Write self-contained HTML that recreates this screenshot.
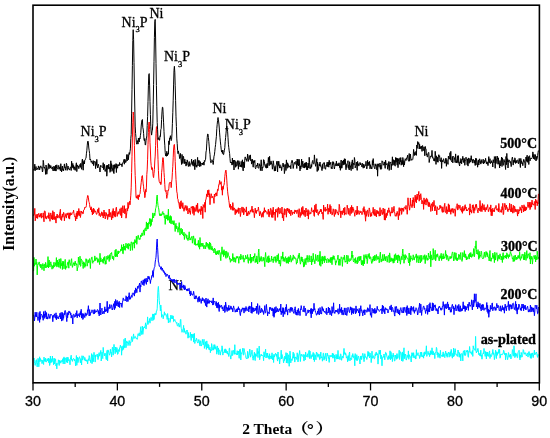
<!DOCTYPE html>
<html><head><meta charset="utf-8"><title>XRD</title>
<style>html,body{margin:0;padding:0;background:#fff;}svg{display:block;}</style>
</head><body>
<svg width="550" height="438" viewBox="0 0 550 438">
<rect width="550" height="438" fill="#fff"/>
<text x="168.6" y="289.9" font-family="Liberation Serif, Times New Roman, serif" font-size="14.5" stroke="#000" stroke-width="0.25">Ni</text>
<polyline fill="none" stroke="#00ffff" stroke-width="1.0" stroke-linejoin="round" points="33.6,359.6 34.0,358.0 34.4,361.3 34.8,363.3 35.2,365.4 35.6,362.3 36.0,360.3 36.4,359.7 36.8,364.2 37.2,366.9 37.6,362.8 38.0,358.3 38.4,359.1 38.8,366.8 39.2,362.6 39.6,356.8 40.0,361.7 40.4,358.5 40.8,360.1 41.2,360.5 41.6,359.9 42.0,363.6 42.4,361.8 42.8,360.2 43.2,363.2 43.6,364.5 44.0,357.1 44.4,361.2 44.8,359.1 45.2,361.5 45.6,358.2 46.0,362.1 46.4,361.9 46.8,361.1 47.2,358.9 47.6,360.8 48.0,358.7 48.4,358.0 48.8,362.7 49.2,358.7 49.6,365.5 50.0,364.1 50.4,356.0 50.8,362.8 51.2,358.7 51.6,362.1 52.0,362.1 52.4,356.0 52.8,361.2 53.2,361.2 53.6,364.8 54.0,358.3 54.4,364.0 54.8,358.5 55.2,360.8 55.6,359.2 56.0,366.0 56.4,363.4 56.8,368.9 57.2,363.6 57.6,364.1 58.0,364.1 58.4,359.8 58.8,361.3 59.2,365.5 59.6,360.3 60.0,362.0 60.4,361.4 60.8,363.2 61.2,360.3 61.6,360.9 62.0,362.0 62.4,361.6 62.8,358.7 63.2,363.9 63.6,357.3 64.0,357.6 64.4,357.3 64.8,364.0 65.2,360.0 65.6,358.2 66.0,357.7 66.4,362.3 66.8,357.8 67.2,357.2 67.6,362.8 68.0,357.3 68.4,359.9 68.8,360.8 69.2,359.5 69.6,360.6 70.0,364.8 70.4,359.2 70.8,357.0 71.2,355.2 71.6,360.1 72.0,359.6 72.4,361.4 72.8,359.2 73.2,359.1 73.6,358.4 74.0,359.0 74.4,360.9 74.8,359.3 75.2,360.6 75.6,365.9 76.0,361.6 76.4,355.5 76.8,365.3 77.2,361.1 77.6,357.2 78.0,362.6 78.4,359.9 78.8,358.0 79.2,357.9 79.6,356.7 80.0,359.8 80.4,362.8 80.8,358.6 81.2,360.7 81.6,365.0 82.0,355.7 82.4,360.1 82.8,358.3 83.2,356.0 83.6,356.1 84.0,359.0 84.4,360.3 84.8,357.4 85.2,359.1 85.6,361.0 86.0,359.7 86.4,361.3 86.8,360.0 87.2,360.1 87.6,364.0 88.0,360.3 88.4,358.8 88.8,360.5 89.2,355.6 89.6,357.3 90.0,360.6 90.4,360.0 90.8,362.7 91.2,358.1 91.6,353.6 92.0,363.7 92.4,361.1 92.8,354.7 93.2,361.8 93.6,357.8 94.0,352.3 94.4,356.3 94.8,356.0 95.2,362.1 95.6,354.9 96.0,356.4 96.4,356.2 96.8,355.7 97.2,354.0 97.6,357.2 98.0,359.6 98.4,358.1 98.8,353.4 99.2,352.6 99.6,356.2 100.0,353.6 100.4,353.7 100.8,350.4 101.2,361.0 101.6,357.8 102.0,352.1 102.4,357.5 102.8,358.6 103.2,347.4 103.6,352.7 104.0,353.1 104.4,356.0 104.8,353.6 105.2,353.1 105.6,353.5 106.0,359.0 106.4,359.7 106.8,351.6 107.2,350.3 107.6,360.9 108.0,349.9 108.4,350.9 108.8,352.6 109.2,353.8 109.6,355.2 110.0,353.2 110.4,349.3 110.8,353.2 111.2,352.3 111.6,357.0 112.0,351.3 112.4,347.2 112.8,347.9 113.2,355.2 113.6,349.1 114.0,344.4 114.4,348.7 114.8,350.3 115.2,353.7 115.6,347.0 116.0,351.8 116.4,352.1 116.8,347.5 117.2,348.8 117.6,354.4 118.0,354.0 118.4,351.3 118.8,349.5 119.2,351.6 119.6,347.7 120.0,347.6 120.4,345.1 120.8,347.4 121.2,347.0 121.6,355.2 122.0,346.2 122.4,350.3 122.8,350.2 123.2,345.6 123.6,349.3 124.0,339.3 124.4,345.7 124.8,347.8 125.2,338.0 125.6,341.4 126.0,347.7 126.4,343.6 126.8,340.9 127.2,342.8 127.6,342.1 128.0,345.6 128.4,344.5 128.8,342.0 129.2,340.5 129.6,341.9 130.0,345.6 130.4,342.4 130.8,342.9 131.2,340.3 131.6,336.6 132.0,337.9 132.4,341.6 132.8,339.6 133.2,336.3 133.6,333.9 134.0,338.6 134.4,337.0 134.8,336.6 135.2,336.3 135.6,337.7 136.0,337.4 136.4,339.0 136.8,338.6 137.2,339.4 137.6,337.5 138.0,333.8 138.4,334.3 138.8,335.6 139.2,332.8 139.6,334.8 140.0,336.1 140.4,329.9 140.8,326.7 141.2,334.7 141.6,330.9 142.0,332.4 142.4,326.0 142.8,334.4 143.2,331.0 143.6,328.0 144.0,326.9 144.4,327.8 144.8,326.5 145.2,325.7 145.6,322.8 146.0,329.1 146.4,324.9 146.8,324.7 147.2,324.3 147.6,316.9 148.0,324.5 148.4,321.6 148.8,321.2 149.2,321.8 149.6,318.5 150.0,323.2 150.4,318.5 150.8,317.6 151.2,317.3 151.6,319.7 152.0,320.8 152.4,316.8 152.8,313.9 153.2,320.3 153.6,314.2 154.0,319.5 154.4,315.8 154.8,313.6 155.2,313.1 155.6,314.9 156.0,314.8 156.4,310.9 156.8,310.9 157.2,308.7 157.6,298.7 158.0,289.2 158.4,286.4 158.8,292.5 159.2,300.4 159.6,304.4 160.0,305.3 160.4,310.8 160.8,305.0 161.2,308.6 161.6,317.3 162.0,315.5 162.4,314.7 162.8,315.0 163.2,318.8 163.6,315.9 164.0,315.0 164.4,311.8 164.8,315.2 165.2,313.6 165.6,314.0 166.0,314.2 166.4,316.3 166.8,315.8 167.2,319.4 167.6,313.5 168.0,317.0 168.4,322.9 168.8,318.0 169.2,321.6 169.6,321.6 170.0,322.4 170.4,321.0 170.8,315.2 171.2,318.6 171.6,318.5 172.0,315.4 172.4,318.8 172.8,316.8 173.2,315.9 173.6,321.7 174.0,321.3 174.4,319.8 174.8,319.4 175.2,320.9 175.6,321.6 176.0,321.9 176.4,323.3 176.8,322.5 177.2,325.3 177.6,326.0 178.0,325.9 178.4,323.2 178.8,323.7 179.2,327.1 179.6,325.6 180.0,326.4 180.4,319.6 180.8,319.3 181.2,328.5 181.6,328.8 182.0,332.3 182.4,330.7 182.8,329.5 183.2,329.3 183.6,325.4 184.0,332.5 184.4,328.5 184.8,332.1 185.2,331.5 185.6,332.1 186.0,334.2 186.4,330.5 186.8,331.1 187.2,330.1 187.6,331.8 188.0,338.2 188.4,332.6 188.8,337.4 189.2,336.7 189.6,336.8 190.0,337.3 190.4,332.3 190.8,336.6 191.2,340.5 191.6,334.0 192.0,336.2 192.4,334.6 192.8,337.8 193.2,333.9 193.6,342.1 194.0,336.5 194.4,333.4 194.8,343.5 195.2,341.3 195.6,340.2 196.0,340.6 196.4,338.2 196.8,338.9 197.2,341.9 197.6,342.8 198.0,343.1 198.4,341.2 198.8,339.5 199.2,340.6 199.6,344.7 200.0,345.9 200.4,340.9 200.8,340.8 201.2,346.1 201.6,344.9 202.0,345.1 202.4,339.4 202.8,342.4 203.2,342.3 203.6,344.7 204.0,339.3 204.4,348.4 204.8,345.7 205.2,346.3 205.6,341.7 206.0,345.2 206.4,349.4 206.8,340.9 207.2,346.6 207.6,347.9 208.0,343.9 208.4,348.5 208.8,345.2 209.2,350.0 209.6,348.0 210.0,347.3 210.4,352.7 210.8,349.3 211.2,350.9 211.6,343.6 212.0,345.3 212.4,349.8 212.8,350.2 213.2,347.5 213.6,350.1 214.0,344.7 214.4,348.6 214.8,344.7 215.2,349.3 215.6,346.9 216.0,346.6 216.4,348.8 216.8,354.2 217.2,345.9 217.6,347.2 218.0,352.3 218.4,348.0 218.8,354.7 219.2,350.2 219.6,349.9 220.0,350.9 220.4,355.1 220.8,352.0 221.2,351.7 221.6,351.1 222.0,345.8 222.4,347.9 222.8,355.1 223.2,353.3 223.6,352.5 224.0,353.0 224.4,349.6 224.8,352.3 225.2,348.8 225.6,352.8 226.0,349.6 226.4,351.2 226.8,353.3 227.2,351.1 227.6,354.2 228.0,353.7 228.4,353.6 228.8,356.5 229.2,348.4 229.6,348.1 230.0,354.8 230.4,355.8 230.8,359.1 231.2,355.4 231.6,355.6 232.0,350.6 232.4,355.5 232.8,355.3 233.2,350.2 233.6,350.7 234.0,353.1 234.4,354.3 234.8,344.7 235.2,353.7 235.6,354.2 236.0,353.1 236.4,354.4 236.8,355.0 237.2,350.7 237.6,355.0 238.0,353.0 238.4,351.0 238.8,354.5 239.2,358.3 239.6,349.6 240.0,349.1 240.4,349.1 240.8,360.0 241.2,353.4 241.6,354.0 242.0,351.9 242.4,351.4 242.8,348.2 243.2,354.8 243.6,355.1 244.0,348.5 244.4,351.3 244.8,352.3 245.2,354.4 245.6,355.3 246.0,358.0 246.4,358.7 246.8,357.9 247.2,358.7 247.6,351.3 248.0,353.1 248.4,358.2 248.8,355.7 249.2,355.0 249.6,349.1 250.0,349.5 250.4,357.2 250.8,356.1 251.2,354.2 251.6,353.9 252.0,350.1 252.4,356.3 252.8,358.4 253.2,360.2 253.6,355.5 254.0,354.8 254.4,352.2 254.8,359.1 255.2,360.6 255.6,353.7 256.0,356.5 256.4,355.9 256.8,354.0 257.2,348.3 257.6,354.7 258.0,357.6 258.4,351.5 258.8,353.4 259.2,346.1 259.6,359.8 260.0,357.5 260.4,356.1 260.8,355.2 261.2,354.1 261.6,355.8 262.0,355.1 262.4,355.3 262.8,356.0 263.2,356.5 263.6,360.7 264.0,351.8 264.4,356.9 264.8,354.3 265.2,352.8 265.6,349.1 266.0,358.0 266.4,353.3 266.8,354.0 267.2,357.6 267.6,353.0 268.0,356.3 268.4,356.0 268.8,358.7 269.2,359.3 269.6,353.7 270.0,359.0 270.4,356.0 270.8,356.7 271.2,355.7 271.6,358.7 272.0,352.8 272.4,357.2 272.8,359.9 273.2,355.6 273.6,362.5 274.0,354.2 274.4,357.1 274.8,355.0 275.2,354.6 275.6,353.2 276.0,354.9 276.4,356.4 276.8,354.1 277.2,359.2 277.6,361.1 278.0,352.0 278.4,359.1 278.8,357.2 279.2,357.3 279.6,364.0 280.0,360.2 280.4,357.6 280.8,357.2 281.2,350.2 281.6,359.0 282.0,354.5 282.4,357.3 282.8,357.1 283.2,359.6 283.6,362.8 284.0,359.7 284.4,360.6 284.8,356.1 285.2,358.2 285.6,359.1 286.0,352.6 286.4,363.0 286.8,354.8 287.2,353.1 287.6,361.8 288.0,363.3 288.4,354.8 288.8,355.1 289.2,366.3 289.6,357.3 290.0,351.1 290.4,355.2 290.8,362.9 291.2,358.9 291.6,359.2 292.0,360.6 292.4,358.9 292.8,355.9 293.2,352.1 293.6,358.2 294.0,353.5 294.4,356.7 294.8,362.1 295.2,358.4 295.6,357.0 296.0,357.0 296.4,359.0 296.8,359.5 297.2,352.8 297.6,357.3 298.0,361.9 298.4,359.0 298.8,354.4 299.2,354.7 299.6,350.5 300.0,354.3 300.4,361.5 300.8,356.4 301.2,354.1 301.6,354.9 302.0,356.3 302.4,356.3 302.8,355.5 303.2,354.3 303.6,358.4 304.0,361.1 304.4,354.8 304.8,354.9 305.2,360.0 305.6,352.1 306.0,354.7 306.4,355.3 306.8,356.9 307.2,355.6 307.6,353.8 308.0,357.3 308.4,352.8 308.8,351.2 309.2,350.3 309.6,358.6 310.0,351.1 310.4,357.7 310.8,358.3 311.2,358.7 311.6,355.8 312.0,354.6 312.4,356.5 312.8,354.5 313.2,352.4 313.6,360.0 314.0,353.5 314.4,361.6 314.8,357.7 315.2,354.8 315.6,357.5 316.0,359.8 316.4,352.0 316.8,353.3 317.2,353.0 317.6,356.6 318.0,357.3 318.4,356.1 318.8,353.9 319.2,354.4 319.6,359.6 320.0,359.3 320.4,356.4 320.8,352.1 321.2,357.9 321.6,356.9 322.0,356.8 322.4,361.2 322.8,358.5 323.2,353.2 323.6,353.2 324.0,360.2 324.4,356.7 324.8,358.8 325.2,355.8 325.6,353.3 326.0,357.1 326.4,361.0 326.8,357.4 327.2,353.0 327.6,355.5 328.0,354.9 328.4,356.9 328.8,359.5 329.2,362.4 329.6,357.2 330.0,355.2 330.4,356.8 330.8,356.6 331.2,355.3 331.6,356.6 332.0,356.6 332.4,353.1 332.8,358.2 333.2,355.5 333.6,353.7 334.0,358.1 334.4,355.2 334.8,361.9 335.2,358.1 335.6,356.9 336.0,354.4 336.4,355.5 336.8,359.2 337.2,354.6 337.6,359.0 338.0,350.4 338.4,357.3 338.8,359.1 339.2,357.7 339.6,356.7 340.0,359.7 340.4,354.2 340.8,353.8 341.2,357.1 341.6,360.3 342.0,358.0 342.4,356.2 342.8,357.7 343.2,358.1 343.6,353.0 344.0,348.4 344.4,353.7 344.8,352.3 345.2,355.1 345.6,353.2 346.0,354.2 346.4,358.1 346.8,357.1 347.2,356.7 347.6,361.8 348.0,355.5 348.4,355.7 348.8,360.6 349.2,353.5 349.6,352.0 350.0,360.8 350.4,357.9 350.8,358.7 351.2,358.8 351.6,359.6 352.0,355.5 352.4,356.7 352.8,353.6 353.2,357.4 353.6,357.7 354.0,355.6 354.4,359.0 354.8,365.8 355.2,353.6 355.6,359.5 356.0,359.9 356.4,360.3 356.8,354.7 357.2,360.7 357.6,359.1 358.0,356.7 358.4,356.1 358.8,357.9 359.2,359.9 359.6,359.8 360.0,364.0 360.4,356.1 360.8,359.1 361.2,355.9 361.6,359.6 362.0,357.6 362.4,355.5 362.8,353.3 363.2,355.0 363.6,358.0 364.0,361.7 364.4,359.6 364.8,353.7 365.2,355.8 365.6,357.4 366.0,356.9 366.4,357.4 366.8,359.5 367.2,357.8 367.6,355.0 368.0,351.3 368.4,356.1 368.8,352.0 369.2,356.6 369.6,358.0 370.0,353.0 370.4,356.5 370.8,355.9 371.2,362.6 371.6,358.2 372.0,351.2 372.4,358.2 372.8,358.1 373.2,356.2 373.6,355.7 374.0,358.6 374.4,358.8 374.8,358.1 375.2,353.8 375.6,356.0 376.0,352.1 376.4,352.3 376.8,355.1 377.2,353.6 377.6,355.5 378.0,364.1 378.4,358.2 378.8,354.1 379.2,350.2 379.6,354.2 380.0,352.4 380.4,350.1 380.8,358.8 381.2,355.1 381.6,357.9 382.0,365.8 382.4,357.3 382.8,356.8 383.2,357.5 383.6,355.6 384.0,354.0 384.4,355.8 384.8,359.8 385.2,355.6 385.6,352.3 386.0,352.6 386.4,353.2 386.8,356.3 387.2,357.7 387.6,357.7 388.0,359.8 388.4,355.7 388.8,358.8 389.2,357.2 389.6,358.4 390.0,350.8 390.4,360.0 390.8,351.7 391.2,352.9 391.6,358.6 392.0,355.1 392.4,361.6 392.8,356.7 393.2,353.2 393.6,356.7 394.0,355.0 394.4,360.9 394.8,361.1 395.2,358.4 395.6,355.0 396.0,356.4 396.4,359.3 396.8,353.7 397.2,353.7 397.6,358.6 398.0,358.3 398.4,355.4 398.8,355.2 399.2,350.2 399.6,359.5 400.0,355.6 400.4,351.7 400.8,352.6 401.2,353.2 401.6,361.0 402.0,357.9 402.4,351.9 402.8,361.4 403.2,359.8 403.6,352.6 404.0,347.8 404.4,358.7 404.8,354.0 405.2,355.3 405.6,354.1 406.0,359.5 406.4,360.1 406.8,358.1 407.2,355.2 407.6,356.4 408.0,357.5 408.4,350.9 408.8,359.3 409.2,354.6 409.6,356.3 410.0,355.9 410.4,358.2 410.8,358.6 411.2,362.0 411.6,354.3 412.0,352.6 412.4,355.6 412.8,353.2 413.2,357.7 413.6,352.7 414.0,355.4 414.4,357.8 414.8,358.0 415.2,355.5 415.6,359.1 416.0,358.7 416.4,349.7 416.8,355.8 417.2,355.2 417.6,353.7 418.0,352.7 418.4,354.7 418.8,355.7 419.2,355.3 419.6,358.5 420.0,357.3 420.4,352.5 420.8,352.0 421.2,356.7 421.6,352.1 422.0,354.6 422.4,355.5 422.8,357.1 423.2,355.5 423.6,358.2 424.0,352.5 424.4,355.8 424.8,351.8 425.2,354.3 425.6,354.0 426.0,350.8 426.4,345.8 426.8,356.4 427.2,354.6 427.6,353.8 428.0,351.3 428.4,352.3 428.8,354.6 429.2,353.3 429.6,356.6 430.0,353.5 430.4,350.7 430.8,355.0 431.2,351.3 431.6,353.8 432.0,347.8 432.4,352.1 432.8,354.9 433.2,351.3 433.6,353.1 434.0,355.0 434.4,353.4 434.8,358.6 435.2,352.5 435.6,352.7 436.0,352.8 436.4,347.4 436.8,348.7 437.2,354.9 437.6,352.3 438.0,357.5 438.4,353.1 438.8,352.9 439.2,356.5 439.6,354.2 440.0,358.2 440.4,350.3 440.8,354.8 441.2,355.5 441.6,355.1 442.0,356.9 442.4,356.6 442.8,353.6 443.2,351.9 443.6,356.5 444.0,353.7 444.4,356.5 444.8,357.7 445.2,354.3 445.6,351.0 446.0,353.0 446.4,356.1 446.8,353.1 447.2,357.3 447.6,354.0 448.0,354.3 448.4,352.0 448.8,353.6 449.2,357.2 449.6,352.9 450.0,352.9 450.4,351.6 450.8,356.3 451.2,349.4 451.6,352.0 452.0,356.7 452.4,358.2 452.8,353.3 453.2,356.9 453.6,348.1 454.0,356.3 454.4,354.9 454.8,350.4 455.2,348.7 455.6,352.5 456.0,354.8 456.4,355.2 456.8,354.4 457.2,356.4 457.6,356.2 458.0,350.0 458.4,353.0 458.8,352.6 459.2,357.2 459.6,352.7 460.0,357.2 460.4,354.4 460.8,361.0 461.2,353.8 461.6,353.9 462.0,353.4 462.4,354.1 462.8,360.9 463.2,352.0 463.6,350.8 464.0,352.8 464.4,355.3 464.8,350.2 465.2,355.5 465.6,355.3 466.0,352.4 466.4,352.1 466.8,350.4 467.2,351.9 467.6,350.2 468.0,356.3 468.4,357.3 468.8,351.5 469.2,352.2 469.6,346.5 470.0,350.5 470.4,353.1 470.8,352.8 471.2,352.3 471.6,354.4 472.0,352.0 472.4,350.5 472.8,356.4 473.2,345.8 473.6,348.0 474.0,349.2 474.4,349.2 474.8,349.0 475.2,350.5 475.6,336.4 476.0,350.9 476.4,353.0 476.8,351.4 477.2,351.8 477.6,348.8 478.0,348.3 478.4,351.0 478.8,354.7 479.2,353.2 479.6,355.5 480.0,355.3 480.4,355.9 480.8,350.2 481.2,356.5 481.6,355.2 482.0,359.2 482.4,354.8 482.8,354.1 483.2,352.8 483.6,353.7 484.0,348.4 484.4,352.6 484.8,353.3 485.2,356.4 485.6,351.5 486.0,353.9 486.4,359.0 486.8,352.1 487.2,356.2 487.6,352.1 488.0,353.5 488.4,355.2 488.8,356.5 489.2,352.5 489.6,350.9 490.0,358.5 490.4,354.6 490.8,356.4 491.2,356.8 491.6,356.3 492.0,353.3 492.4,353.7 492.8,349.5 493.2,354.6 493.6,352.7 494.0,354.0 494.4,359.6 494.8,356.1 495.2,354.3 495.6,350.1 496.0,356.3 496.4,358.6 496.8,351.7 497.2,355.4 497.6,352.6 498.0,353.7 498.4,353.0 498.8,349.4 499.2,352.6 499.6,349.4 500.0,358.2 500.4,357.2 500.8,354.3 501.2,355.0 501.6,354.3 502.0,354.7 502.4,354.7 502.8,353.5 503.2,353.7 503.6,350.2 504.0,351.2 504.4,352.4 504.8,354.8 505.2,353.1 505.6,359.8 506.0,353.6 506.4,353.2 506.8,355.5 507.2,357.2 507.6,359.7 508.0,357.1 508.4,352.5 508.8,353.7 509.2,357.3 509.6,355.0 510.0,356.6 510.4,354.0 510.8,359.0 511.2,358.5 511.6,357.6 512.0,354.8 512.4,349.6 512.8,350.3 513.2,355.3 513.6,356.2 514.0,345.8 514.4,352.9 514.8,357.7 515.2,357.1 515.6,352.9 516.0,356.2 516.4,354.4 516.8,353.7 517.2,357.6 517.6,357.7 518.0,352.8 518.4,351.6 518.8,350.6 519.2,350.2 519.6,358.3 520.0,359.9 520.4,355.0 520.8,357.5 521.2,352.4 521.6,354.2 522.0,357.1 522.4,355.4 522.8,354.3 523.2,349.6 523.6,350.2 524.0,353.3 524.4,352.9 524.8,354.3 525.2,352.6 525.6,353.8 526.0,354.7 526.4,356.0 526.8,354.7 527.2,352.9 527.6,353.7 528.0,357.1 528.4,353.9 528.8,351.7 529.2,351.6 529.6,355.3 530.0,356.2 530.4,358.1 530.8,353.6 531.2,358.5 531.6,353.5 532.0,353.9 532.4,352.9 532.8,356.1 533.2,357.6 533.6,354.5 534.0,353.1 534.4,350.1 534.8,355.0 535.2,353.6 535.6,354.0 536.0,352.7 536.4,352.0 536.8,353.3 537.2,355.9 537.6,357.4 538.0,354.5 538.4,355.5"/>
<polyline fill="none" stroke="#0000ff" stroke-width="1.0" stroke-linejoin="round" points="33.6,314.8 34.0,316.0 34.4,320.9 34.8,318.2 35.2,312.2 35.6,316.5 36.0,314.8 36.4,316.9 36.8,312.2 37.2,317.1 37.6,317.1 38.0,320.6 38.4,317.3 38.8,317.8 39.2,312.5 39.6,322.4 40.0,311.4 40.4,319.3 40.8,315.6 41.2,314.1 41.6,314.7 42.0,314.7 42.4,317.4 42.8,316.1 43.2,320.3 43.6,311.6 44.0,316.4 44.4,314.1 44.8,318.4 45.2,310.8 45.6,315.5 46.0,316.9 46.4,312.5 46.8,319.0 47.2,316.8 47.6,319.0 48.0,318.9 48.4,313.8 48.8,314.3 49.2,315.8 49.6,318.3 50.0,318.6 50.4,314.5 50.8,314.7 51.2,314.2 51.6,314.8 52.0,315.7 52.4,316.0 52.8,321.7 53.2,315.0 53.6,315.6 54.0,317.5 54.4,313.8 54.8,315.3 55.2,316.3 55.6,318.3 56.0,312.8 56.4,319.8 56.8,315.2 57.2,316.5 57.6,318.3 58.0,317.8 58.4,318.8 58.8,316.4 59.2,315.9 59.6,316.7 60.0,313.2 60.4,319.0 60.8,313.7 61.2,312.4 61.6,321.1 62.0,315.3 62.4,312.5 62.8,320.4 63.2,314.7 63.6,318.3 64.0,313.3 64.4,314.8 64.8,311.0 65.2,310.4 65.6,312.8 66.0,315.1 66.4,317.3 66.8,321.6 67.2,312.5 67.6,317.8 68.0,313.5 68.4,314.7 68.8,311.1 69.2,311.1 69.6,312.9 70.0,311.8 70.4,314.9 70.8,313.0 71.2,318.1 71.6,315.2 72.0,315.2 72.4,317.7 72.8,324.0 73.2,314.5 73.6,314.3 74.0,314.2 74.4,317.3 74.8,316.5 75.2,315.4 75.6,316.5 76.0,312.9 76.4,315.7 76.8,310.6 77.2,317.8 77.6,314.5 78.0,314.7 78.4,315.7 78.8,314.1 79.2,313.4 79.6,317.1 80.0,314.3 80.4,311.5 80.8,315.0 81.2,309.3 81.6,318.1 82.0,313.2 82.4,313.7 82.8,319.5 83.2,319.1 83.6,313.7 84.0,315.0 84.4,316.1 84.8,317.6 85.2,312.8 85.6,313.5 86.0,316.2 86.4,313.7 86.8,314.9 87.2,314.4 87.6,309.8 88.0,310.5 88.4,305.7 88.8,311.9 89.2,316.0 89.6,309.6 90.0,315.6 90.4,314.9 90.8,312.1 91.2,312.2 91.6,312.4 92.0,309.8 92.4,311.3 92.8,311.8 93.2,313.5 93.6,313.9 94.0,309.8 94.4,313.8 94.8,309.6 95.2,311.1 95.6,312.5 96.0,311.4 96.4,311.0 96.8,312.0 97.2,309.8 97.6,309.5 98.0,310.6 98.4,313.6 98.8,310.7 99.2,315.9 99.6,311.4 100.0,303.0 100.4,309.6 100.8,315.0 101.2,310.6 101.6,309.4 102.0,308.2 102.4,313.9 102.8,313.0 103.2,312.0 103.6,311.3 104.0,313.9 104.4,312.2 104.8,306.8 105.2,311.9 105.6,310.2 106.0,309.2 106.4,311.3 106.8,309.2 107.2,301.3 107.6,312.9 108.0,311.3 108.4,308.1 108.8,307.3 109.2,308.6 109.6,304.5 110.0,308.5 110.4,306.9 110.8,306.4 111.2,304.7 111.6,305.2 112.0,309.6 112.4,310.0 112.8,307.7 113.2,306.1 113.6,303.7 114.0,307.7 114.4,309.8 114.8,301.3 115.2,308.3 115.6,299.5 116.0,304.0 116.4,305.7 116.8,301.0 117.2,300.4 117.6,304.7 118.0,306.3 118.4,302.5 118.8,307.0 119.2,301.3 119.6,307.6 120.0,303.1 120.4,303.2 120.8,303.9 121.2,303.0 121.6,306.7 122.0,307.4 122.4,302.8 122.8,300.8 123.2,297.9 123.6,298.8 124.0,300.5 124.4,300.0 124.8,299.9 125.2,299.8 125.6,300.8 126.0,295.8 126.4,296.4 126.8,301.7 127.2,300.8 127.6,297.0 128.0,301.5 128.4,296.2 128.8,297.0 129.2,292.7 129.6,299.4 130.0,297.0 130.4,299.2 130.8,297.7 131.2,295.6 131.6,295.3 132.0,297.4 132.4,293.4 132.8,292.9 133.2,292.9 133.6,294.3 134.0,294.0 134.4,296.1 134.8,290.4 135.2,293.3 135.6,287.9 136.0,290.6 136.4,289.0 136.8,292.7 137.2,289.4 137.6,286.3 138.0,288.5 138.4,287.5 138.8,285.5 139.2,285.1 139.6,283.1 140.0,292.1 140.4,285.1 140.8,286.9 141.2,281.1 141.6,281.0 142.0,283.1 142.4,282.7 142.8,284.8 143.2,279.9 143.6,283.5 144.0,285.6 144.4,279.2 144.8,283.4 145.2,278.5 145.6,281.5 146.0,281.3 146.4,284.4 146.8,278.2 147.2,280.0 147.6,281.9 148.0,276.2 148.4,278.8 148.8,276.5 149.2,276.6 149.6,279.7 150.0,279.4 150.4,283.5 150.8,280.3 151.2,279.7 151.6,276.1 152.0,275.4 152.4,276.0 152.8,270.6 153.2,277.4 153.6,271.4 154.0,268.8 154.4,267.4 154.8,266.7 155.2,262.0 155.6,259.6 156.0,257.2 156.4,250.8 156.8,241.8 157.2,239.0 157.6,247.8 158.0,254.8 158.4,262.3 158.8,262.3 159.2,266.2 159.6,265.8 160.0,267.0 160.4,267.4 160.8,269.3 161.2,266.7 161.6,268.1 162.0,270.4 162.4,268.1 162.8,269.8 163.2,271.5 163.6,270.4 164.0,272.7 164.4,271.7 164.8,274.4 165.2,274.0 165.6,272.9 166.0,276.6 166.4,274.7 166.8,274.8 167.2,274.1 167.6,275.1 168.0,276.0 168.4,276.7 168.8,278.4 169.2,275.1 169.6,276.9 170.0,279.5 170.4,278.3 170.8,278.9 171.2,281.0 171.6,279.4 172.0,279.9 172.4,279.5 172.8,282.5 173.2,281.7 173.6,279.4 174.0,281.6 174.4,279.3 174.8,283.0 175.2,282.7 175.6,281.7 176.0,281.7 176.4,279.8 176.8,284.1 177.2,283.0 177.6,283.0 178.0,284.9 178.4,283.1 178.8,283.5 179.2,283.6 179.6,282.9 180.0,289.0 180.4,285.3 180.8,285.4 181.2,287.6 181.6,281.7 182.0,286.8 182.4,287.1 182.8,285.9 183.2,288.4 183.6,284.9 184.0,288.3 184.4,290.0 184.8,285.5 185.2,286.9 185.6,289.2 186.0,289.7 186.4,289.0 186.8,290.9 187.2,291.0 187.6,288.8 188.0,291.0 188.4,289.5 188.8,288.5 189.2,288.3 189.6,294.0 190.0,292.5 190.4,296.0 190.8,290.9 191.2,293.0 191.6,294.4 192.0,293.9 192.4,295.3 192.8,295.0 193.2,294.0 193.6,291.3 194.0,294.0 194.4,299.0 194.8,297.7 195.2,299.1 195.6,295.8 196.0,296.8 196.4,295.8 196.8,298.6 197.2,298.2 197.6,299.3 198.0,302.2 198.4,297.2 198.8,300.5 199.2,296.3 199.6,301.6 200.0,298.5 200.4,299.4 200.8,300.0 201.2,303.4 201.6,299.9 202.0,299.0 202.4,297.7 202.8,301.0 203.2,298.6 203.6,299.5 204.0,300.8 204.4,302.5 204.8,299.4 205.2,302.8 205.6,305.6 206.0,298.0 206.4,305.0 206.8,307.1 207.2,300.5 207.6,303.6 208.0,298.8 208.4,303.2 208.8,301.7 209.2,303.4 209.6,300.4 210.0,300.8 210.4,301.9 210.8,301.3 211.2,301.7 211.6,302.9 212.0,300.7 212.4,303.3 212.8,305.1 213.2,297.9 213.6,304.6 214.0,302.3 214.4,301.5 214.8,301.0 215.2,302.4 215.6,302.8 216.0,305.7 216.4,301.6 216.8,307.8 217.2,303.0 217.6,307.0 218.0,308.2 218.4,302.3 218.8,308.4 219.2,311.5 219.6,304.7 220.0,307.5 220.4,305.8 220.8,306.5 221.2,305.9 221.6,305.2 222.0,308.6 222.4,309.1 222.8,306.9 223.2,311.0 223.6,310.0 224.0,309.1 224.4,305.5 224.8,312.5 225.2,311.1 225.6,302.1 226.0,305.0 226.4,306.7 226.8,310.6 227.2,311.5 227.6,307.6 228.0,309.1 228.4,310.4 228.8,305.3 229.2,310.3 229.6,308.1 230.0,309.5 230.4,308.9 230.8,305.9 231.2,306.4 231.6,309.2 232.0,309.4 232.4,308.4 232.8,311.9 233.2,308.2 233.6,305.9 234.0,308.2 234.4,308.7 234.8,308.8 235.2,312.2 235.6,310.5 236.0,312.0 236.4,310.8 236.8,308.8 237.2,312.0 237.6,308.6 238.0,309.9 238.4,306.7 238.8,309.6 239.2,308.5 239.6,310.3 240.0,314.1 240.4,315.6 240.8,312.0 241.2,309.3 241.6,311.6 242.0,310.0 242.4,307.8 242.8,309.3 243.2,308.8 243.6,307.9 244.0,313.1 244.4,308.1 244.8,308.2 245.2,311.4 245.6,307.7 246.0,306.5 246.4,307.3 246.8,310.8 247.2,310.6 247.6,310.4 248.0,308.4 248.4,307.2 248.8,312.0 249.2,305.9 249.6,309.1 250.0,306.2 250.4,308.6 250.8,309.3 251.2,313.0 251.6,302.2 252.0,313.4 252.4,307.5 252.8,310.6 253.2,311.9 253.6,307.8 254.0,309.6 254.4,311.2 254.8,309.6 255.2,308.0 255.6,310.4 256.0,310.2 256.4,306.0 256.8,313.5 257.2,310.6 257.6,303.6 258.0,307.8 258.4,314.5 258.8,314.2 259.2,310.8 259.6,305.7 260.0,309.5 260.4,312.9 260.8,311.2 261.2,309.3 261.6,308.2 262.0,312.3 262.4,309.6 262.8,311.0 263.2,311.5 263.6,314.5 264.0,310.7 264.4,310.9 264.8,305.6 265.2,313.2 265.6,312.6 266.0,310.3 266.4,304.4 266.8,308.9 267.2,310.5 267.6,315.9 268.0,311.9 268.4,312.5 268.8,312.6 269.2,313.9 269.6,307.4 270.0,308.2 270.4,307.3 270.8,309.7 271.2,309.5 271.6,310.7 272.0,307.8 272.4,310.7 272.8,308.3 273.2,316.1 273.6,309.1 274.0,317.3 274.4,314.9 274.8,307.4 275.2,313.1 275.6,312.2 276.0,306.6 276.4,312.2 276.8,310.4 277.2,311.6 277.6,308.4 278.0,310.5 278.4,311.8 278.8,310.2 279.2,309.1 279.6,310.3 280.0,308.2 280.4,311.7 280.8,304.0 281.2,314.7 281.6,311.0 282.0,312.0 282.4,313.1 282.8,307.6 283.2,316.8 283.6,307.9 284.0,312.1 284.4,311.7 284.8,314.3 285.2,310.9 285.6,307.2 286.0,311.8 286.4,304.4 286.8,310.4 287.2,309.8 287.6,315.1 288.0,310.2 288.4,309.8 288.8,309.0 289.2,308.8 289.6,309.6 290.0,312.6 290.4,307.6 290.8,310.5 291.2,307.2 291.6,310.6 292.0,311.5 292.4,307.8 292.8,309.5 293.2,311.3 293.6,313.1 294.0,313.5 294.4,310.7 294.8,308.4 295.2,306.8 295.6,313.1 296.0,314.7 296.4,312.0 296.8,315.2 297.2,309.9 297.6,310.0 298.0,315.2 298.4,308.4 298.8,312.7 299.2,312.1 299.6,311.5 300.0,315.6 300.4,308.8 300.8,310.0 301.2,305.6 301.6,308.3 302.0,309.7 302.4,310.1 302.8,310.6 303.2,311.9 303.6,309.3 304.0,305.9 304.4,311.5 304.8,312.2 305.2,308.1 305.6,309.0 306.0,315.8 306.4,313.8 306.8,314.0 307.2,312.9 307.6,311.5 308.0,309.8 308.4,312.7 308.8,310.6 309.2,310.0 309.6,311.1 310.0,310.9 310.4,313.5 310.8,308.6 311.2,317.8 311.6,308.5 312.0,310.0 312.4,313.7 312.8,309.0 313.2,309.9 313.6,311.3 314.0,303.3 314.4,309.8 314.8,308.6 315.2,310.5 315.6,312.5 316.0,312.9 316.4,315.2 316.8,315.0 317.2,314.0 317.6,311.1 318.0,314.0 318.4,308.6 318.8,311.0 319.2,315.0 319.6,313.3 320.0,307.5 320.4,309.7 320.8,313.7 321.2,312.9 321.6,314.1 322.0,306.6 322.4,307.9 322.8,310.6 323.2,308.7 323.6,311.2 324.0,311.3 324.4,312.2 324.8,311.0 325.2,312.8 325.6,313.4 326.0,311.7 326.4,308.1 326.8,314.8 327.2,311.9 327.6,312.5 328.0,311.8 328.4,307.1 328.8,312.9 329.2,309.6 329.6,308.1 330.0,314.8 330.4,310.6 330.8,312.1 331.2,313.7 331.6,315.7 332.0,306.6 332.4,309.4 332.8,313.2 333.2,309.6 333.6,302.8 334.0,311.8 334.4,312.0 334.8,313.5 335.2,312.0 335.6,310.2 336.0,312.0 336.4,311.3 336.8,310.1 337.2,312.1 337.6,312.4 338.0,308.7 338.4,314.2 338.8,313.6 339.2,313.5 339.6,304.2 340.0,311.8 340.4,311.1 340.8,308.8 341.2,313.0 341.6,307.4 342.0,314.7 342.4,312.4 342.8,310.0 343.2,315.1 343.6,312.6 344.0,312.2 344.4,307.9 344.8,312.7 345.2,315.0 345.6,314.2 346.0,307.9 346.4,315.0 346.8,315.5 347.2,313.5 347.6,310.2 348.0,307.3 348.4,308.8 348.8,309.7 349.2,311.9 349.6,312.6 350.0,309.2 350.4,306.8 350.8,310.0 351.2,307.6 351.6,314.6 352.0,307.8 352.4,312.3 352.8,313.2 353.2,308.4 353.6,313.7 354.0,310.6 354.4,308.9 354.8,308.5 355.2,311.2 355.6,313.8 356.0,305.9 356.4,312.5 356.8,310.5 357.2,308.9 357.6,310.6 358.0,310.8 358.4,310.7 358.8,313.0 359.2,308.4 359.6,316.1 360.0,313.2 360.4,309.2 360.8,305.7 361.2,310.8 361.6,309.7 362.0,312.8 362.4,312.7 362.8,315.9 363.2,310.5 363.6,312.9 364.0,309.7 364.4,309.8 364.8,314.9 365.2,310.4 365.6,310.5 366.0,309.8 366.4,311.6 366.8,312.3 367.2,310.4 367.6,307.7 368.0,311.7 368.4,308.6 368.8,309.8 369.2,311.3 369.6,311.4 370.0,304.6 370.4,315.2 370.8,312.8 371.2,315.8 371.6,317.4 372.0,308.2 372.4,309.2 372.8,311.3 373.2,313.1 373.6,309.3 374.0,309.8 374.4,313.4 374.8,308.2 375.2,311.1 375.6,313.4 376.0,309.8 376.4,312.6 376.8,310.2 377.2,306.3 377.6,309.0 378.0,309.9 378.4,309.5 378.8,310.5 379.2,311.4 379.6,311.1 380.0,310.8 380.4,309.2 380.8,309.7 381.2,309.3 381.6,308.7 382.0,313.9 382.4,305.2 382.8,310.9 383.2,305.9 383.6,308.6 384.0,312.3 384.4,309.4 384.8,313.9 385.2,307.6 385.6,309.4 386.0,308.4 386.4,310.1 386.8,309.3 387.2,309.1 387.6,310.3 388.0,313.0 388.4,310.4 388.8,310.2 389.2,309.2 389.6,308.1 390.0,306.1 390.4,307.2 390.8,310.0 391.2,304.9 391.6,311.6 392.0,308.8 392.4,307.4 392.8,308.4 393.2,311.6 393.6,310.8 394.0,310.6 394.4,314.6 394.8,316.1 395.2,306.6 395.6,312.3 396.0,308.0 396.4,306.4 396.8,308.7 397.2,312.8 397.6,309.3 398.0,308.9 398.4,314.0 398.8,311.6 399.2,310.1 399.6,315.1 400.0,311.7 400.4,308.5 400.8,307.6 401.2,309.3 401.6,310.9 402.0,313.0 402.4,312.7 402.8,310.8 403.2,307.4 403.6,313.0 404.0,310.8 404.4,307.6 404.8,307.2 405.2,311.1 405.6,311.4 406.0,312.6 406.4,307.2 406.8,315.5 407.2,305.6 407.6,310.3 408.0,314.0 408.4,313.2 408.8,307.9 409.2,312.0 409.6,313.7 410.0,312.4 410.4,307.8 410.8,314.8 411.2,306.0 411.6,310.3 412.0,307.3 412.4,309.0 412.8,309.2 413.2,311.4 413.6,306.6 414.0,310.5 414.4,313.3 414.8,310.1 415.2,311.3 415.6,310.9 416.0,307.7 416.4,308.7 416.8,309.8 417.2,310.9 417.6,315.0 418.0,313.9 418.4,308.2 418.8,308.3 419.2,306.7 419.6,303.2 420.0,312.8 420.4,310.7 420.8,304.1 421.2,309.2 421.6,315.4 422.0,310.4 422.4,310.4 422.8,309.6 423.2,307.0 423.6,305.9 424.0,306.7 424.4,309.3 424.8,308.2 425.2,310.7 425.6,313.5 426.0,310.4 426.4,311.0 426.8,307.8 427.2,305.2 427.6,314.4 428.0,310.5 428.4,311.7 428.8,307.5 429.2,304.0 429.6,312.0 430.0,302.7 430.4,308.0 430.8,307.0 431.2,309.0 431.6,310.5 432.0,310.6 432.4,302.8 432.8,311.0 433.2,303.3 433.6,310.1 434.0,307.2 434.4,305.3 434.8,306.9 435.2,304.8 435.6,308.3 436.0,310.8 436.4,310.4 436.8,308.4 437.2,311.2 437.6,309.6 438.0,314.0 438.4,309.7 438.8,306.7 439.2,307.5 439.6,306.2 440.0,307.5 440.4,307.9 440.8,310.1 441.2,310.3 441.6,308.4 442.0,309.4 442.4,306.2 442.8,306.7 443.2,301.6 443.6,306.1 444.0,306.8 444.4,315.1 444.8,304.5 445.2,308.3 445.6,307.3 446.0,303.9 446.4,308.8 446.8,308.2 447.2,304.2 447.6,301.9 448.0,308.0 448.4,304.3 448.8,309.9 449.2,307.4 449.6,309.5 450.0,307.3 450.4,312.2 450.8,309.9 451.2,312.2 451.6,308.4 452.0,305.3 452.4,304.3 452.8,306.7 453.2,308.9 453.6,306.4 454.0,314.7 454.4,307.9 454.8,309.3 455.2,308.3 455.6,304.7 456.0,310.9 456.4,309.8 456.8,310.4 457.2,305.6 457.6,308.1 458.0,308.0 458.4,311.2 458.8,304.4 459.2,309.9 459.6,311.5 460.0,306.9 460.4,305.8 460.8,311.5 461.2,308.5 461.6,310.8 462.0,309.7 462.4,310.5 462.8,307.1 463.2,301.8 463.6,309.0 464.0,305.5 464.4,308.9 464.8,305.8 465.2,311.5 465.6,306.4 466.0,309.2 466.4,309.9 466.8,306.6 467.2,307.6 467.6,306.6 468.0,304.0 468.4,310.4 468.8,303.9 469.2,302.1 469.6,304.8 470.0,306.5 470.4,306.2 470.8,304.9 471.2,304.5 471.6,299.8 472.0,307.1 472.4,310.0 472.8,303.2 473.2,300.2 473.6,306.9 474.0,304.3 474.4,293.8 474.8,302.5 475.2,300.4 475.6,301.0 476.0,293.8 476.4,306.9 476.8,303.9 477.2,304.6 477.6,308.9 478.0,301.8 478.4,306.9 478.8,303.3 479.2,307.5 479.6,305.9 480.0,303.4 480.4,308.5 480.8,307.2 481.2,310.9 481.6,304.9 482.0,306.5 482.4,304.4 482.8,309.8 483.2,304.5 483.6,306.7 484.0,310.4 484.4,308.5 484.8,308.0 485.2,308.1 485.6,308.4 486.0,309.4 486.4,307.0 486.8,302.5 487.2,311.7 487.6,305.3 488.0,313.4 488.4,309.3 488.8,317.3 489.2,312.0 489.6,310.1 490.0,311.6 490.4,305.3 490.8,309.5 491.2,308.0 491.6,309.0 492.0,303.3 492.4,302.9 492.8,310.8 493.2,308.9 493.6,307.5 494.0,308.4 494.4,306.8 494.8,307.2 495.2,310.4 495.6,307.8 496.0,310.3 496.4,306.4 496.8,303.4 497.2,306.5 497.6,307.9 498.0,305.1 498.4,307.1 498.8,306.7 499.2,310.6 499.6,310.3 500.0,311.0 500.4,305.8 500.8,308.8 501.2,311.4 501.6,308.3 502.0,307.6 502.4,305.6 502.8,310.0 503.2,308.1 503.6,310.3 504.0,307.2 504.4,313.2 504.8,307.4 505.2,304.1 505.6,308.0 506.0,308.7 506.4,310.8 506.8,306.0 507.2,305.8 507.6,306.5 508.0,306.1 508.4,301.3 508.8,309.0 509.2,310.5 509.6,304.9 510.0,304.3 510.4,306.6 510.8,304.8 511.2,309.2 511.6,305.4 512.0,308.8 512.4,303.8 512.8,303.3 513.2,303.0 513.6,303.4 514.0,308.4 514.4,309.6 514.8,307.7 515.2,307.9 515.6,301.4 516.0,310.5 516.4,304.1 516.8,311.0 517.2,314.1 517.6,307.7 518.0,309.3 518.4,309.3 518.8,304.0 519.2,304.6 519.6,305.8 520.0,308.1 520.4,310.0 520.8,308.1 521.2,310.8 521.6,306.4 522.0,304.0 522.4,308.0 522.8,307.8 523.2,304.1 523.6,310.8 524.0,305.4 524.4,306.1 524.8,308.7 525.2,305.2 525.6,309.8 526.0,309.2 526.4,309.4 526.8,308.2 527.2,307.0 527.6,306.2 528.0,309.1 528.4,312.1 528.8,310.5 529.2,309.4 529.6,311.2 530.0,312.1 530.4,305.1 530.8,308.4 531.2,311.9 531.6,306.9 532.0,307.4 532.4,310.4 532.8,308.1 533.2,312.0 533.6,307.9 534.0,310.4 534.4,315.7 534.8,312.0 535.2,305.2 535.6,306.1 536.0,306.2 536.4,308.9 536.8,305.2 537.2,310.6 537.6,313.7 538.0,313.3 538.4,307.0"/>
<polyline fill="none" stroke="#00ff00" stroke-width="1.0" stroke-linejoin="round" points="33.6,271.1 34.0,257.4 34.4,266.2 34.8,263.3 35.2,263.6 35.6,264.4 36.0,259.0 36.4,264.3 36.8,262.4 37.2,274.9 37.6,265.7 38.0,263.9 38.4,264.2 38.8,263.0 39.2,261.9 39.6,263.8 40.0,266.4 40.4,264.3 40.8,267.9 41.2,264.4 41.6,265.1 42.0,269.6 42.4,266.6 42.8,263.5 43.2,264.5 43.6,266.6 44.0,270.8 44.4,264.2 44.8,264.3 45.2,268.0 45.6,262.4 46.0,264.1 46.4,267.6 46.8,266.7 47.2,265.3 47.6,267.0 48.0,256.6 48.4,268.0 48.8,262.1 49.2,260.0 49.6,265.8 50.0,267.1 50.4,263.7 50.8,261.8 51.2,265.1 51.6,264.8 52.0,269.2 52.4,267.2 52.8,265.6 53.2,268.3 53.6,264.4 54.0,262.2 54.4,266.7 54.8,266.7 55.2,264.4 55.6,262.7 56.0,265.7 56.4,257.6 56.8,267.1 57.2,266.5 57.6,260.1 58.0,265.2 58.4,262.1 58.8,267.3 59.2,258.9 59.6,262.3 60.0,267.1 60.4,268.4 60.8,258.5 61.2,263.4 61.6,265.8 62.0,263.0 62.4,269.5 62.8,261.2 63.2,265.7 63.6,261.5 64.0,268.8 64.4,264.5 64.8,263.4 65.2,259.4 65.6,269.4 66.0,266.6 66.4,266.6 66.8,267.7 67.2,265.3 67.6,262.3 68.0,261.8 68.4,261.8 68.8,268.2 69.2,259.7 69.6,262.3 70.0,263.0 70.4,264.6 70.8,265.6 71.2,260.2 71.6,258.7 72.0,263.8 72.4,267.4 72.8,266.0 73.2,264.3 73.6,262.7 74.0,264.5 74.4,262.8 74.8,265.9 75.2,261.1 75.6,263.8 76.0,263.1 76.4,265.0 76.8,264.0 77.2,270.9 77.6,267.7 78.0,267.6 78.4,257.1 78.8,262.1 79.2,261.3 79.6,264.6 80.0,256.2 80.4,266.4 80.8,266.0 81.2,258.9 81.6,259.8 82.0,260.3 82.4,262.7 82.8,264.4 83.2,268.5 83.6,261.8 84.0,264.6 84.4,262.7 84.8,267.4 85.2,264.3 85.6,266.1 86.0,258.7 86.4,261.3 86.8,259.4 87.2,266.2 87.6,263.6 88.0,260.7 88.4,260.2 88.8,262.9 89.2,259.3 89.6,258.6 90.0,262.7 90.4,268.5 90.8,260.4 91.2,259.4 91.6,257.5 92.0,256.9 92.4,262.4 92.8,263.3 93.2,260.7 93.6,261.6 94.0,260.9 94.4,260.9 94.8,255.9 95.2,259.0 95.6,260.6 96.0,257.9 96.4,258.7 96.8,257.6 97.2,259.0 97.6,262.4 98.0,258.6 98.4,259.3 98.8,262.1 99.2,261.5 99.6,264.6 100.0,253.3 100.4,261.9 100.8,257.8 101.2,259.5 101.6,261.5 102.0,262.1 102.4,261.9 102.8,259.1 103.2,263.3 103.6,257.6 104.0,257.9 104.4,260.5 104.8,256.4 105.2,264.3 105.6,260.8 106.0,264.1 106.4,257.5 106.8,256.3 107.2,257.8 107.6,259.4 108.0,255.4 108.4,258.1 108.8,256.8 109.2,261.5 109.6,254.7 110.0,259.6 110.4,254.5 110.8,253.4 111.2,254.0 111.6,252.5 112.0,256.3 112.4,258.8 112.8,256.1 113.2,257.4 113.6,260.2 114.0,256.1 114.4,255.7 114.8,254.2 115.2,250.1 115.6,256.9 116.0,249.2 116.4,256.1 116.8,253.9 117.2,257.0 117.6,253.2 118.0,250.8 118.4,254.0 118.8,251.1 119.2,251.9 119.6,252.4 120.0,251.6 120.4,251.2 120.8,249.1 121.2,250.7 121.6,244.7 122.0,250.3 122.4,247.0 122.8,253.6 123.2,253.8 123.6,244.1 124.0,250.0 124.4,249.0 124.8,246.0 125.2,250.4 125.6,247.3 126.0,243.2 126.4,247.4 126.8,247.5 127.2,248.0 127.6,243.8 128.0,249.0 128.4,249.1 128.8,243.3 129.2,244.5 129.6,246.0 130.0,244.3 130.4,250.7 130.8,245.8 131.2,241.8 131.6,242.1 132.0,243.8 132.4,250.3 132.8,242.7 133.2,243.1 133.6,243.9 134.0,241.9 134.4,248.2 134.8,239.6 135.2,242.9 135.6,240.8 136.0,241.8 136.4,236.2 136.8,244.3 137.2,238.4 137.6,238.5 138.0,235.3 138.4,235.4 138.8,238.8 139.2,239.6 139.6,238.5 140.0,239.4 140.4,237.4 140.8,234.9 141.2,236.7 141.6,235.4 142.0,232.9 142.4,234.7 142.8,235.7 143.2,232.2 143.6,229.9 144.0,232.4 144.4,235.2 144.8,228.7 145.2,228.5 145.6,227.8 146.0,231.0 146.4,221.9 146.8,227.5 147.2,229.2 147.6,223.1 148.0,228.9 148.4,225.8 148.8,222.3 149.2,223.8 149.6,218.5 150.0,220.6 150.4,226.5 150.8,218.7 151.2,225.4 151.6,219.7 152.0,221.9 152.4,219.0 152.8,212.9 153.2,216.6 153.6,217.9 154.0,214.1 154.4,213.0 154.8,215.7 155.2,212.3 155.6,208.6 156.0,207.4 156.4,204.3 156.8,196.9 157.2,195.0 157.6,201.3 158.0,205.5 158.4,207.4 158.8,209.0 159.2,212.7 159.6,215.5 160.0,214.8 160.4,215.8 160.8,213.7 161.2,215.8 161.6,214.0 162.0,214.5 162.4,212.1 162.8,211.5 163.2,214.5 163.6,213.0 164.0,213.5 164.4,218.0 164.8,216.0 165.2,224.4 165.6,219.0 166.0,214.8 166.4,218.8 166.8,217.8 167.2,215.0 167.6,220.3 168.0,215.3 168.4,209.1 168.8,220.2 169.2,216.5 169.6,222.7 170.0,216.9 170.4,215.6 170.8,223.6 171.2,216.4 171.6,220.3 172.0,224.1 172.4,220.9 172.8,220.9 173.2,222.0 173.6,224.7 174.0,220.6 174.4,225.3 174.8,225.8 175.2,231.5 175.6,224.4 176.0,223.3 176.4,228.7 176.8,226.0 177.2,228.6 177.6,228.7 178.0,232.3 178.4,227.4 178.8,229.4 179.2,222.6 179.6,227.8 180.0,235.1 180.4,229.0 180.8,229.3 181.2,228.2 181.6,233.7 182.0,232.9 182.4,229.3 182.8,235.0 183.2,234.2 183.6,236.0 184.0,232.2 184.4,239.5 184.8,236.0 185.2,234.8 185.6,233.8 186.0,234.8 186.4,238.3 186.8,235.2 187.2,239.4 187.6,238.2 188.0,240.6 188.4,239.3 188.8,237.0 189.2,231.8 189.6,238.5 190.0,240.1 190.4,238.5 190.8,239.9 191.2,237.1 191.6,237.6 192.0,236.2 192.4,243.2 192.8,239.9 193.2,238.2 193.6,235.9 194.0,239.6 194.4,244.6 194.8,241.9 195.2,238.6 195.6,245.2 196.0,245.4 196.4,244.3 196.8,244.0 197.2,245.3 197.6,243.7 198.0,244.6 198.4,240.3 198.8,247.2 199.2,243.7 199.6,249.2 200.0,237.5 200.4,245.7 200.8,246.7 201.2,243.0 201.6,245.5 202.0,246.5 202.4,246.2 202.8,243.0 203.2,244.4 203.6,247.9 204.0,248.9 204.4,245.5 204.8,245.6 205.2,246.2 205.6,248.8 206.0,242.8 206.4,242.1 206.8,246.6 207.2,243.1 207.6,244.8 208.0,246.9 208.4,248.3 208.8,243.8 209.2,249.5 209.6,242.1 210.0,249.1 210.4,243.1 210.8,244.2 211.2,250.1 211.6,247.3 212.0,246.3 212.4,247.6 212.8,250.6 213.2,249.3 213.6,249.6 214.0,253.0 214.4,248.0 214.8,249.0 215.2,249.0 215.6,254.2 216.0,253.9 216.4,254.9 216.8,251.2 217.2,251.0 217.6,254.1 218.0,250.6 218.4,254.4 218.8,254.3 219.2,250.2 219.6,252.2 220.0,252.3 220.4,258.0 220.8,260.7 221.2,252.9 221.6,253.4 222.0,246.8 222.4,254.3 222.8,253.9 223.2,250.9 223.6,256.6 224.0,249.7 224.4,253.9 224.8,255.2 225.2,251.2 225.6,257.6 226.0,258.4 226.4,251.3 226.8,251.4 227.2,257.6 227.6,255.9 228.0,252.5 228.4,255.4 228.8,256.2 229.2,256.2 229.6,259.3 230.0,258.1 230.4,262.3 230.8,261.1 231.2,259.1 231.6,260.3 232.0,261.1 232.4,259.3 232.8,253.5 233.2,259.8 233.6,257.5 234.0,262.1 234.4,257.6 234.8,258.9 235.2,258.3 235.6,262.4 236.0,257.9 236.4,256.6 236.8,258.4 237.2,256.2 237.6,258.0 238.0,257.5 238.4,258.4 238.8,263.3 239.2,256.4 239.6,257.7 240.0,257.1 240.4,259.7 240.8,254.2 241.2,255.7 241.6,257.7 242.0,259.4 242.4,257.7 242.8,256.4 243.2,255.3 243.6,259.4 244.0,262.2 244.4,258.9 244.8,258.5 245.2,259.3 245.6,255.2 246.0,257.1 246.4,257.3 246.8,259.0 247.2,258.0 247.6,254.6 248.0,261.5 248.4,263.3 248.8,257.5 249.2,259.5 249.6,259.1 250.0,260.7 250.4,254.0 250.8,263.2 251.2,257.0 251.6,262.2 252.0,258.7 252.4,257.3 252.8,258.1 253.2,261.2 253.6,256.0 254.0,257.5 254.4,257.2 254.8,253.5 255.2,262.6 255.6,260.4 256.0,258.7 256.4,262.2 256.8,255.9 257.2,258.6 257.6,264.0 258.0,261.8 258.4,252.3 258.8,249.0 259.2,255.9 259.6,262.1 260.0,257.6 260.4,258.3 260.8,260.8 261.2,256.4 261.6,259.6 262.0,261.4 262.4,260.4 262.8,260.2 263.2,257.2 263.6,260.5 264.0,257.7 264.4,262.9 264.8,266.7 265.2,256.8 265.6,252.5 266.0,257.7 266.4,260.1 266.8,262.1 267.2,262.2 267.6,256.7 268.0,256.6 268.4,262.8 268.8,255.7 269.2,262.2 269.6,258.3 270.0,261.3 270.4,261.1 270.8,261.3 271.2,261.4 271.6,256.0 272.0,259.9 272.4,259.0 272.8,259.9 273.2,262.7 273.6,258.2 274.0,256.9 274.4,256.8 274.8,258.1 275.2,261.2 275.6,256.6 276.0,262.5 276.4,259.9 276.8,258.3 277.2,255.0 277.6,259.7 278.0,261.1 278.4,253.7 278.8,262.6 279.2,263.9 279.6,260.0 280.0,260.5 280.4,266.2 280.8,262.7 281.2,256.3 281.6,258.9 282.0,258.5 282.4,258.5 282.8,251.9 283.2,261.3 283.6,257.1 284.0,259.5 284.4,258.6 284.8,261.6 285.2,258.1 285.6,256.6 286.0,260.6 286.4,263.2 286.8,258.0 287.2,263.1 287.6,259.8 288.0,257.4 288.4,263.5 288.8,256.6 289.2,262.0 289.6,257.5 290.0,260.3 290.4,255.3 290.8,256.5 291.2,262.2 291.6,259.6 292.0,259.2 292.4,257.8 292.8,260.4 293.2,254.9 293.6,255.8 294.0,258.7 294.4,256.7 294.8,257.1 295.2,259.0 295.6,258.8 296.0,258.5 296.4,264.2 296.8,262.2 297.2,262.9 297.6,259.2 298.0,257.8 298.4,254.9 298.8,258.3 299.2,253.1 299.6,257.6 300.0,261.6 300.4,264.2 300.8,262.2 301.2,256.8 301.6,260.9 302.0,257.0 302.4,261.9 302.8,259.1 303.2,262.0 303.6,267.1 304.0,262.2 304.4,266.4 304.8,260.0 305.2,258.5 305.6,263.5 306.0,264.7 306.4,257.9 306.8,259.8 307.2,255.3 307.6,259.0 308.0,262.3 308.4,259.4 308.8,257.9 309.2,255.4 309.6,260.8 310.0,262.0 310.4,261.5 310.8,260.5 311.2,255.9 311.6,265.0 312.0,259.6 312.4,259.3 312.8,261.9 313.2,253.3 313.6,259.6 314.0,259.4 314.4,260.9 314.8,263.8 315.2,261.2 315.6,254.4 316.0,258.9 316.4,260.5 316.8,260.3 317.2,256.1 317.6,255.0 318.0,261.6 318.4,261.0 318.8,259.9 319.2,254.8 319.6,265.3 320.0,251.3 320.4,258.9 320.8,266.3 321.2,259.6 321.6,260.7 322.0,256.5 322.4,264.1 322.8,256.2 323.2,260.8 323.6,260.5 324.0,257.0 324.4,262.8 324.8,255.9 325.2,258.1 325.6,260.1 326.0,258.9 326.4,261.6 326.8,262.9 327.2,259.3 327.6,258.6 328.0,258.7 328.4,259.1 328.8,262.6 329.2,259.6 329.6,261.5 330.0,260.0 330.4,257.7 330.8,262.8 331.2,257.2 331.6,260.3 332.0,264.7 332.4,257.0 332.8,260.2 333.2,255.6 333.6,258.8 334.0,255.9 334.4,259.3 334.8,258.8 335.2,260.8 335.6,265.1 336.0,261.2 336.4,262.4 336.8,260.3 337.2,259.7 337.6,257.9 338.0,255.1 338.4,260.7 338.8,265.3 339.2,261.9 339.6,258.9 340.0,265.4 340.4,259.2 340.8,258.6 341.2,256.8 341.6,257.5 342.0,259.7 342.4,266.4 342.8,259.8 343.2,257.3 343.6,258.5 344.0,259.6 344.4,255.2 344.8,260.6 345.2,262.3 345.6,261.2 346.0,262.0 346.4,256.3 346.8,255.1 347.2,264.0 347.6,263.4 348.0,255.5 348.4,260.7 348.8,260.2 349.2,261.7 349.6,260.7 350.0,258.5 350.4,260.6 350.8,260.5 351.2,259.8 351.6,254.4 352.0,251.0 352.4,257.5 352.8,255.0 353.2,260.6 353.6,262.0 354.0,260.6 354.4,258.7 354.8,260.0 355.2,263.3 355.6,257.6 356.0,262.5 356.4,261.8 356.8,260.5 357.2,264.0 357.6,257.5 358.0,262.5 358.4,256.8 358.8,257.3 359.2,256.4 359.6,260.9 360.0,256.7 360.4,259.7 360.8,256.1 361.2,262.7 361.6,265.0 362.0,260.1 362.4,264.3 362.8,261.1 363.2,265.9 363.6,259.7 364.0,254.7 364.4,263.8 364.8,258.9 365.2,256.2 365.6,257.3 366.0,254.4 366.4,258.7 366.8,256.0 367.2,263.6 367.6,261.2 368.0,254.2 368.4,254.6 368.8,257.4 369.2,253.4 369.6,258.8 370.0,258.9 370.4,256.7 370.8,257.4 371.2,260.5 371.6,263.2 372.0,263.5 372.4,259.1 372.8,261.5 373.2,256.7 373.6,260.1 374.0,256.0 374.4,261.0 374.8,255.1 375.2,255.9 375.6,258.8 376.0,260.5 376.4,254.5 376.8,257.1 377.2,259.1 377.6,259.4 378.0,256.2 378.4,259.0 378.8,257.9 379.2,262.8 379.6,260.3 380.0,254.6 380.4,252.0 380.8,258.9 381.2,262.1 381.6,259.1 382.0,261.2 382.4,257.1 382.8,254.4 383.2,260.7 383.6,258.8 384.0,260.5 384.4,254.3 384.8,259.0 385.2,256.6 385.6,260.8 386.0,256.7 386.4,256.6 386.8,256.6 387.2,262.2 387.6,258.5 388.0,256.1 388.4,255.3 388.8,255.2 389.2,262.7 389.6,252.9 390.0,255.8 390.4,260.2 390.8,261.8 391.2,257.8 391.6,260.6 392.0,260.5 392.4,261.2 392.8,258.4 393.2,263.2 393.6,258.8 394.0,262.8 394.4,254.9 394.8,261.0 395.2,254.4 395.6,253.7 396.0,259.7 396.4,255.7 396.8,259.5 397.2,255.0 397.6,263.0 398.0,258.2 398.4,254.8 398.8,258.7 399.2,260.8 399.6,255.8 400.0,259.7 400.4,264.2 400.8,260.7 401.2,258.1 401.6,256.4 402.0,259.8 402.4,253.5 402.8,249.0 403.2,256.1 403.6,254.8 404.0,263.3 404.4,258.5 404.8,255.1 405.2,254.5 405.6,259.5 406.0,255.5 406.4,256.2 406.8,257.7 407.2,258.2 407.6,258.3 408.0,258.3 408.4,261.8 408.8,263.0 409.2,253.0 409.6,265.6 410.0,258.3 410.4,261.6 410.8,255.7 411.2,258.9 411.6,258.5 412.0,258.2 412.4,260.4 412.8,259.7 413.2,254.8 413.6,257.5 414.0,260.0 414.4,259.9 414.8,256.8 415.2,257.0 415.6,257.3 416.0,254.5 416.4,253.9 416.8,262.5 417.2,256.6 417.6,258.0 418.0,255.5 418.4,261.6 418.8,263.0 419.2,257.1 419.6,259.2 420.0,255.4 420.4,263.0 420.8,260.4 421.2,255.2 421.6,261.4 422.0,258.7 422.4,258.9 422.8,258.7 423.2,255.6 423.6,256.0 424.0,259.5 424.4,257.4 424.8,254.7 425.2,263.6 425.6,256.9 426.0,255.9 426.4,255.4 426.8,259.6 427.2,260.4 427.6,258.2 428.0,260.1 428.4,253.0 428.8,256.4 429.2,256.0 429.6,257.5 430.0,258.9 430.4,251.3 430.8,266.8 431.2,254.8 431.6,258.4 432.0,259.9 432.4,259.9 432.8,258.1 433.2,248.6 433.6,254.1 434.0,259.6 434.4,254.5 434.8,254.1 435.2,250.2 435.6,260.9 436.0,258.8 436.4,254.5 436.8,256.8 437.2,256.9 437.6,253.8 438.0,256.3 438.4,257.9 438.8,258.8 439.2,260.9 439.6,257.2 440.0,255.7 440.4,258.3 440.8,255.2 441.2,253.3 441.6,260.5 442.0,255.9 442.4,257.4 442.8,259.0 443.2,253.7 443.6,259.0 444.0,258.4 444.4,256.8 444.8,258.2 445.2,254.8 445.6,250.5 446.0,256.2 446.4,254.3 446.8,259.7 447.2,257.8 447.6,255.5 448.0,257.2 448.4,261.1 448.8,260.5 449.2,258.2 449.6,258.3 450.0,256.2 450.4,256.7 450.8,258.8 451.2,256.7 451.6,257.9 452.0,253.7 452.4,252.1 452.8,252.0 453.2,255.7 453.6,261.0 454.0,260.6 454.4,254.1 454.8,252.4 455.2,259.4 455.6,258.4 456.0,252.9 456.4,260.2 456.8,257.6 457.2,261.0 457.6,258.1 458.0,259.7 458.4,258.0 458.8,254.2 459.2,256.3 459.6,255.0 460.0,259.5 460.4,254.1 460.8,252.5 461.2,259.1 461.6,260.5 462.0,261.4 462.4,260.3 462.8,252.5 463.2,255.0 463.6,255.4 464.0,257.0 464.4,250.6 464.8,257.0 465.2,257.8 465.6,253.9 466.0,257.0 466.4,260.0 466.8,256.5 467.2,259.3 467.6,259.0 468.0,257.1 468.4,256.8 468.8,254.4 469.2,259.1 469.6,253.8 470.0,252.9 470.4,256.9 470.8,252.5 471.2,255.7 471.6,257.4 472.0,254.3 472.4,254.2 472.8,256.4 473.2,255.7 473.6,248.6 474.0,249.1 474.4,256.8 474.8,253.8 475.2,246.2 475.6,248.2 476.0,240.8 476.4,249.3 476.8,253.9 477.2,252.9 477.6,254.3 478.0,249.6 478.4,255.1 478.8,259.3 479.2,251.3 479.6,257.8 480.0,257.0 480.4,256.2 480.8,254.3 481.2,251.2 481.6,252.2 482.0,257.4 482.4,258.1 482.8,258.9 483.2,258.2 483.6,258.2 484.0,254.3 484.4,252.1 484.8,256.4 485.2,257.4 485.6,256.2 486.0,251.5 486.4,254.6 486.8,251.9 487.2,256.8 487.6,253.3 488.0,256.1 488.4,257.6 488.8,257.2 489.2,261.0 489.6,253.7 490.0,250.5 490.4,259.9 490.8,261.2 491.2,261.3 491.6,257.9 492.0,258.6 492.4,257.3 492.8,253.1 493.2,255.2 493.6,258.4 494.0,255.2 494.4,262.6 494.8,252.2 495.2,255.5 495.6,260.1 496.0,255.0 496.4,253.4 496.8,252.7 497.2,254.6 497.6,261.2 498.0,257.9 498.4,258.2 498.8,255.1 499.2,259.2 499.6,256.9 500.0,253.8 500.4,255.2 500.8,257.2 501.2,260.0 501.6,256.3 502.0,258.0 502.4,262.5 502.8,254.1 503.2,252.7 503.6,259.4 504.0,257.7 504.4,256.1 504.8,257.2 505.2,255.4 505.6,257.9 506.0,255.3 506.4,258.7 506.8,252.8 507.2,253.8 507.6,256.6 508.0,254.8 508.4,258.3 508.8,256.0 509.2,254.5 509.6,256.8 510.0,254.5 510.4,251.5 510.8,252.7 511.2,253.8 511.6,254.8 512.0,256.5 512.4,259.0 512.8,257.9 513.2,261.6 513.6,260.1 514.0,255.8 514.4,261.3 514.8,259.9 515.2,255.0 515.6,257.3 516.0,259.7 516.4,257.2 516.8,259.5 517.2,257.7 517.6,258.6 518.0,255.6 518.4,257.7 518.8,255.5 519.2,258.6 519.6,251.6 520.0,257.6 520.4,260.4 520.8,258.4 521.2,256.6 521.6,258.3 522.0,254.2 522.4,254.3 522.8,255.7 523.2,256.4 523.6,259.7 524.0,254.2 524.4,259.9 524.8,252.2 525.2,254.5 525.6,256.8 526.0,260.4 526.4,255.1 526.8,250.6 527.2,258.3 527.6,256.9 528.0,253.8 528.4,253.9 528.8,255.0 529.2,257.4 529.6,259.1 530.0,252.7 530.4,264.0 530.8,257.0 531.2,256.0 531.6,259.2 532.0,257.5 532.4,264.1 532.8,260.4 533.2,256.0 533.6,256.0 534.0,255.6 534.4,256.1 534.8,259.1 535.2,255.2 535.6,262.0 536.0,256.9 536.4,256.7 536.8,260.0 537.2,251.2 537.6,254.3 538.0,258.9 538.4,257.2"/>
<polyline fill="none" stroke="#ff0000" stroke-width="1.0" stroke-linejoin="round" points="33.6,216.1 34.0,214.0 34.4,214.3 34.8,208.4 35.2,220.8 35.6,218.9 36.0,214.6 36.4,217.9 36.8,216.4 37.2,214.0 37.6,218.5 38.0,214.7 38.4,214.7 38.8,213.3 39.2,217.0 39.6,215.4 40.0,217.3 40.4,213.9 40.8,216.1 41.2,213.1 41.6,218.2 42.0,216.3 42.4,216.7 42.8,217.0 43.2,212.9 43.6,218.1 44.0,221.8 44.4,211.1 44.8,210.8 45.2,211.5 45.6,218.3 46.0,216.3 46.4,219.1 46.8,218.0 47.2,216.5 47.6,216.8 48.0,215.5 48.4,218.5 48.8,212.7 49.2,214.8 49.6,216.7 50.0,221.3 50.4,213.8 50.8,212.9 51.2,214.4 51.6,218.9 52.0,215.4 52.4,219.9 52.8,210.7 53.2,219.4 53.6,219.1 54.0,212.0 54.4,216.6 54.8,219.7 55.2,216.4 55.6,219.1 56.0,223.1 56.4,217.0 56.8,215.4 57.2,214.0 57.6,218.1 58.0,215.7 58.4,215.8 58.8,216.0 59.2,218.2 59.6,213.3 60.0,211.9 60.4,209.3 60.8,219.7 61.2,216.4 61.6,220.5 62.0,216.1 62.4,213.9 62.8,217.3 63.2,215.7 63.6,212.3 64.0,213.3 64.4,220.8 64.8,216.7 65.2,216.9 65.6,214.8 66.0,213.6 66.4,218.1 66.8,215.2 67.2,213.3 67.6,215.0 68.0,212.8 68.4,215.8 68.8,218.4 69.2,212.8 69.6,219.1 70.0,213.2 70.4,215.4 70.8,212.6 71.2,214.3 71.6,215.0 72.0,213.6 72.4,212.8 72.8,212.8 73.2,212.3 73.6,210.2 74.0,213.8 74.4,215.5 74.8,216.8 75.2,216.1 75.6,220.9 76.0,215.0 76.4,212.9 76.8,219.0 77.2,211.2 77.6,216.5 78.0,211.3 78.4,214.7 78.8,208.5 79.2,215.9 79.6,213.0 80.0,210.9 80.4,217.5 80.8,215.0 81.2,213.1 81.6,211.0 82.0,212.6 82.4,212.1 82.8,213.9 83.2,213.7 83.6,210.1 84.0,210.0 84.4,209.6 84.8,207.3 85.2,208.0 85.6,207.6 86.0,207.1 86.4,205.5 86.8,200.2 87.2,198.4 87.6,195.6 88.0,195.5 88.4,197.8 88.8,201.3 89.2,202.4 89.6,204.6 90.0,207.7 90.4,207.8 90.8,210.0 91.2,206.8 91.6,211.8 92.0,208.8 92.4,214.9 92.8,210.5 93.2,214.0 93.6,208.1 94.0,212.6 94.4,209.5 94.8,210.5 95.2,211.9 95.6,211.2 96.0,212.9 96.4,214.3 96.8,214.3 97.2,212.5 97.6,209.4 98.0,211.0 98.4,212.8 98.8,207.8 99.2,215.6 99.6,213.1 100.0,213.2 100.4,216.7 100.8,216.1 101.2,215.0 101.6,211.8 102.0,215.5 102.4,215.8 102.8,212.5 103.2,218.0 103.6,216.7 104.0,210.0 104.4,215.9 104.8,212.2 105.2,218.9 105.6,217.9 106.0,212.5 106.4,213.0 106.8,215.7 107.2,214.6 107.6,219.5 108.0,217.2 108.4,214.2 108.8,216.5 109.2,209.0 109.6,215.6 110.0,217.1 110.4,214.0 110.8,212.4 111.2,215.9 111.6,219.8 112.0,214.7 112.4,210.8 112.8,218.1 113.2,208.5 113.6,215.2 114.0,212.0 114.4,216.2 114.8,211.0 115.2,217.1 115.6,214.0 116.0,208.1 116.4,207.2 116.8,211.9 117.2,216.4 117.6,212.9 118.0,212.6 118.4,211.6 118.8,214.2 119.2,213.1 119.6,212.6 120.0,208.8 120.4,215.0 120.8,215.5 121.2,207.7 121.6,218.0 122.0,213.4 122.4,209.8 122.8,205.7 123.2,212.9 123.6,212.5 124.0,209.1 124.4,205.6 124.8,213.8 125.2,208.8 125.6,209.0 126.0,218.2 126.4,215.9 126.8,212.3 127.2,208.1 127.6,210.8 128.0,202.4 128.4,208.4 128.8,205.4 129.2,203.1 129.6,201.3 130.0,204.8 130.4,200.4 130.8,195.2 131.2,187.8 131.6,172.5 132.0,156.3 132.4,137.9 132.8,122.3 133.2,112.0 133.6,115.5 134.0,129.9 134.4,145.5 134.8,162.8 135.2,175.6 135.6,184.1 136.0,196.9 136.4,198.2 136.8,195.9 137.2,196.5 137.6,198.5 138.0,194.8 138.4,199.7 138.8,195.1 139.2,196.9 139.6,194.4 140.0,193.8 140.4,189.7 140.8,186.0 141.2,182.7 141.6,178.7 142.0,175.9 142.4,175.6 142.8,180.0 143.2,183.9 143.6,186.8 144.0,191.9 144.4,191.8 144.8,197.7 145.2,195.8 145.6,189.5 146.0,192.1 146.4,187.9 146.8,174.7 147.2,169.9 147.6,159.2 148.0,144.6 148.4,132.6 148.8,123.3 149.2,122.0 149.6,129.7 150.0,142.7 150.4,150.0 150.8,161.1 151.2,165.5 151.6,169.5 152.0,167.6 152.4,167.8 152.8,171.8 153.2,176.2 153.6,177.6 154.0,173.4 154.4,169.4 154.8,161.0 155.2,156.1 155.6,145.4 156.0,133.5 156.4,127.2 156.8,126.5 157.2,137.5 157.6,148.4 158.0,159.5 158.4,170.3 158.8,178.0 159.2,181.4 159.6,182.3 160.0,183.2 160.4,181.9 160.8,184.7 161.2,183.8 161.6,172.7 162.0,168.9 162.4,162.8 162.8,157.6 163.2,157.8 163.6,163.0 164.0,172.4 164.4,177.5 164.8,184.7 165.2,190.5 165.6,191.5 166.0,190.2 166.4,194.4 166.8,198.4 167.2,195.9 167.6,195.5 168.0,190.0 168.4,190.5 168.8,188.8 169.2,183.9 169.6,182.6 170.0,182.9 170.4,182.5 170.8,182.1 171.2,187.6 171.6,182.2 172.0,179.2 172.4,172.4 172.8,166.4 173.2,157.8 173.6,149.0 174.0,145.0 174.4,144.4 174.8,150.4 175.2,161.4 175.6,170.8 176.0,179.5 176.4,185.1 176.8,191.9 177.2,193.2 177.6,198.8 178.0,199.3 178.4,202.5 178.8,202.2 179.2,205.2 179.6,208.4 180.0,202.5 180.4,208.8 180.8,201.0 181.2,200.7 181.6,206.5 182.0,207.0 182.4,208.4 182.8,202.7 183.2,207.3 183.6,208.0 184.0,211.3 184.4,207.6 184.8,209.6 185.2,205.4 185.6,207.7 186.0,207.1 186.4,210.5 186.8,205.7 187.2,206.3 187.6,210.4 188.0,214.0 188.4,210.0 188.8,209.9 189.2,208.1 189.6,212.3 190.0,210.8 190.4,214.4 190.8,210.4 191.2,206.8 191.6,207.9 192.0,206.8 192.4,206.1 192.8,213.5 193.2,212.3 193.6,206.4 194.0,215.3 194.4,210.9 194.8,207.5 195.2,211.5 195.6,210.2 196.0,208.2 196.4,204.9 196.8,210.8 197.2,211.6 197.6,203.2 198.0,212.5 198.4,212.8 198.8,209.6 199.2,211.4 199.6,210.3 200.0,208.8 200.4,209.9 200.8,214.7 201.2,206.2 201.6,210.8 202.0,210.4 202.4,207.4 202.8,218.5 203.2,204.6 203.6,205.7 204.0,207.6 204.4,207.3 204.8,202.3 205.2,212.2 205.6,199.8 206.0,199.7 206.4,196.5 206.8,193.9 207.2,196.9 207.6,190.3 208.0,191.3 208.4,195.0 208.8,189.8 209.2,197.2 209.6,193.6 210.0,204.7 210.4,196.7 210.8,195.9 211.2,193.7 211.6,195.8 212.0,198.1 212.4,196.9 212.8,196.2 213.2,197.6 213.6,198.8 214.0,203.3 214.4,194.0 214.8,196.9 215.2,195.3 215.6,193.1 216.0,193.0 216.4,192.9 216.8,196.1 217.2,192.0 217.6,189.3 218.0,190.6 218.4,187.8 218.8,184.5 219.2,184.7 219.6,180.4 220.0,182.5 220.4,184.2 220.8,182.7 221.2,181.7 221.6,190.1 222.0,187.4 222.4,195.2 222.8,186.3 223.2,189.3 223.6,185.8 224.0,185.0 224.4,182.5 224.8,176.6 225.2,173.3 225.6,170.5 226.0,170.0 226.4,174.2 226.8,180.2 227.2,186.3 227.6,191.2 228.0,195.0 228.4,197.0 228.8,200.5 229.2,202.9 229.6,207.4 230.0,206.1 230.4,204.2 230.8,209.5 231.2,206.0 231.6,206.4 232.0,208.1 232.4,210.3 232.8,202.6 233.2,206.5 233.6,210.3 234.0,209.1 234.4,207.9 234.8,209.1 235.2,214.7 235.6,209.5 236.0,212.9 236.4,213.2 236.8,209.7 237.2,212.2 237.6,209.7 238.0,209.3 238.4,207.8 238.8,213.6 239.2,210.0 239.6,209.6 240.0,208.0 240.4,216.5 240.8,213.4 241.2,210.9 241.6,209.3 242.0,206.9 242.4,212.2 242.8,212.3 243.2,207.4 243.6,214.9 244.0,213.8 244.4,208.7 244.8,210.0 245.2,210.4 245.6,212.1 246.0,211.2 246.4,206.9 246.8,216.0 247.2,212.7 247.6,215.5 248.0,215.5 248.4,211.2 248.8,212.9 249.2,214.0 249.6,214.2 250.0,211.5 250.4,210.2 250.8,212.1 251.2,209.7 251.6,210.4 252.0,206.1 252.4,212.3 252.8,209.1 253.2,210.5 253.6,212.0 254.0,213.1 254.4,217.7 254.8,212.8 255.2,208.1 255.6,212.6 256.0,210.5 256.4,213.5 256.8,210.3 257.2,210.2 257.6,210.8 258.0,210.5 258.4,207.0 258.8,210.4 259.2,212.4 259.6,216.0 260.0,211.6 260.4,211.4 260.8,214.2 261.2,214.1 261.6,217.3 262.0,214.3 262.4,212.5 262.8,216.6 263.2,217.2 263.6,211.2 264.0,213.1 264.4,207.7 264.8,211.6 265.2,210.1 265.6,212.1 266.0,211.3 266.4,212.3 266.8,212.5 267.2,214.3 267.6,213.5 268.0,211.2 268.4,209.1 268.8,216.6 269.2,217.1 269.6,211.6 270.0,214.6 270.4,208.4 270.8,208.3 271.2,212.1 271.6,217.3 272.0,209.8 272.4,210.4 272.8,217.6 273.2,207.2 273.6,214.7 274.0,214.2 274.4,212.1 274.8,213.3 275.2,220.5 275.6,209.4 276.0,211.7 276.4,212.0 276.8,210.6 277.2,208.6 277.6,217.3 278.0,213.2 278.4,207.3 278.8,210.5 279.2,213.7 279.6,213.7 280.0,208.2 280.4,212.2 280.8,213.2 281.2,213.6 281.6,213.6 282.0,207.0 282.4,217.9 282.8,213.0 283.2,217.7 283.6,220.8 284.0,211.8 284.4,208.6 284.8,214.8 285.2,211.7 285.6,210.9 286.0,209.1 286.4,217.2 286.8,210.8 287.2,208.0 287.6,210.8 288.0,208.6 288.4,212.5 288.8,210.8 289.2,208.9 289.6,213.8 290.0,210.1 290.4,214.1 290.8,215.7 291.2,210.9 291.6,210.1 292.0,212.6 292.4,214.6 292.8,212.0 293.2,212.4 293.6,211.9 294.0,212.9 294.4,213.9 294.8,209.9 295.2,210.5 295.6,212.1 296.0,210.0 296.4,212.4 296.8,213.6 297.2,211.9 297.6,210.2 298.0,209.7 298.4,217.2 298.8,214.6 299.2,208.7 299.6,209.5 300.0,217.6 300.4,216.5 300.8,212.4 301.2,215.4 301.6,207.6 302.0,212.0 302.4,214.2 302.8,206.4 303.2,209.7 303.6,214.3 304.0,215.4 304.4,210.2 304.8,212.9 305.2,216.8 305.6,210.8 306.0,208.0 306.4,211.8 306.8,210.8 307.2,215.9 307.6,212.5 308.0,209.6 308.4,219.1 308.8,210.5 309.2,213.4 309.6,214.0 310.0,214.3 310.4,212.5 310.8,213.7 311.2,211.7 311.6,207.7 312.0,211.2 312.4,211.3 312.8,211.3 313.2,212.2 313.6,209.9 314.0,215.7 314.4,216.4 314.8,205.2 315.2,211.8 315.6,209.6 316.0,203.9 316.4,212.9 316.8,209.8 317.2,210.5 317.6,209.7 318.0,214.8 318.4,215.3 318.8,212.4 319.2,213.6 319.6,211.2 320.0,211.9 320.4,209.3 320.8,211.6 321.2,209.3 321.6,212.5 322.0,213.9 322.4,212.3 322.8,214.9 323.2,219.4 323.6,205.0 324.0,211.3 324.4,209.6 324.8,209.9 325.2,207.2 325.6,211.4 326.0,210.4 326.4,209.3 326.8,210.4 327.2,209.4 327.6,204.1 328.0,214.3 328.4,210.2 328.8,208.2 329.2,211.9 329.6,209.0 330.0,204.5 330.4,213.7 330.8,206.0 331.2,210.4 331.6,211.4 332.0,215.1 332.4,214.6 332.8,211.6 333.2,208.8 333.6,209.9 334.0,214.4 334.4,216.5 334.8,212.8 335.2,209.2 335.6,214.3 336.0,210.1 336.4,210.0 336.8,210.4 337.2,213.0 337.6,212.1 338.0,214.2 338.4,215.1 338.8,212.8 339.2,204.3 339.6,206.2 340.0,211.8 340.4,211.1 340.8,217.8 341.2,211.3 341.6,210.9 342.0,214.2 342.4,214.6 342.8,210.7 343.2,212.8 343.6,208.1 344.0,208.6 344.4,215.2 344.8,207.3 345.2,214.3 345.6,213.5 346.0,213.8 346.4,214.3 346.8,213.2 347.2,205.2 347.6,208.6 348.0,209.8 348.4,214.3 348.8,208.2 349.2,209.5 349.6,210.6 350.0,215.6 350.4,207.4 350.8,207.6 351.2,213.6 351.6,205.4 352.0,212.7 352.4,210.4 352.8,207.0 353.2,210.5 353.6,208.8 354.0,212.3 354.4,212.9 354.8,216.3 355.2,211.8 355.6,212.1 356.0,210.1 356.4,211.8 356.8,215.0 357.2,206.1 357.6,213.9 358.0,210.3 358.4,212.2 358.8,212.9 359.2,214.5 359.6,212.7 360.0,210.8 360.4,212.9 360.8,212.1 361.2,211.4 361.6,212.7 362.0,214.7 362.4,212.5 362.8,212.6 363.2,208.3 363.6,211.8 364.0,206.6 364.4,214.4 364.8,209.4 365.2,216.1 365.6,221.2 366.0,211.1 366.4,216.3 366.8,213.5 367.2,210.7 367.6,209.9 368.0,214.1 368.4,216.6 368.8,213.5 369.2,207.9 369.6,209.4 370.0,211.8 370.4,216.6 370.8,213.4 371.2,213.5 371.6,216.2 372.0,212.0 372.4,212.3 372.8,212.1 373.2,207.3 373.6,214.1 374.0,213.9 374.4,215.6 374.8,209.2 375.2,210.3 375.6,215.6 376.0,213.8 376.4,216.9 376.8,210.2 377.2,213.4 377.6,210.8 378.0,213.8 378.4,211.5 378.8,214.5 379.2,216.2 379.6,215.0 380.0,207.6 380.4,215.8 380.8,214.3 381.2,209.8 381.6,210.2 382.0,212.9 382.4,214.6 382.8,211.5 383.2,208.0 383.6,213.6 384.0,213.3 384.4,220.0 384.8,208.9 385.2,220.2 385.6,217.9 386.0,213.6 386.4,217.6 386.8,212.9 387.2,215.5 387.6,210.4 388.0,212.8 388.4,209.5 388.8,207.8 389.2,211.7 389.6,210.5 390.0,214.1 390.4,216.2 390.8,211.9 391.2,212.5 391.6,212.9 392.0,207.3 392.4,213.1 392.8,212.3 393.2,212.1 393.6,208.9 394.0,206.3 394.4,211.4 394.8,213.1 395.2,216.1 395.6,215.5 396.0,216.4 396.4,213.2 396.8,215.5 397.2,211.4 397.6,213.9 398.0,214.7 398.4,219.8 398.8,212.3 399.2,207.6 399.6,215.4 400.0,208.7 400.4,210.7 400.8,209.9 401.2,207.9 401.6,214.4 402.0,212.0 402.4,208.2 402.8,210.1 403.2,208.4 403.6,211.4 404.0,208.2 404.4,206.9 404.8,207.1 405.2,207.5 405.6,209.3 406.0,205.4 406.4,207.6 406.8,208.9 407.2,214.3 407.6,209.6 408.0,197.8 408.4,204.9 408.8,204.9 409.2,206.8 409.6,210.2 410.0,207.4 410.4,198.0 410.8,205.5 411.2,204.6 411.6,205.2 412.0,207.7 412.4,200.0 412.8,206.2 413.2,197.5 413.6,202.2 414.0,202.8 414.4,208.0 414.8,198.6 415.2,195.1 415.6,201.6 416.0,196.9 416.4,202.9 416.8,195.3 417.2,194.0 417.6,199.5 418.0,195.4 418.4,195.2 418.8,191.4 419.2,201.2 419.6,195.1 420.0,199.9 420.4,194.9 420.8,193.7 421.2,198.0 421.6,199.6 422.0,204.0 422.4,200.6 422.8,201.9 423.2,201.9 423.6,209.4 424.0,197.9 424.4,204.2 424.8,200.2 425.2,201.7 425.6,199.6 426.0,205.1 426.4,198.2 426.8,198.4 427.2,202.1 427.6,199.6 428.0,205.5 428.4,206.5 428.8,201.9 429.2,206.8 429.6,202.8 430.0,205.0 430.4,205.5 430.8,211.5 431.2,206.2 431.6,203.8 432.0,204.2 432.4,210.7 432.8,202.2 433.2,206.0 433.6,206.4 434.0,200.4 434.4,206.4 434.8,211.0 435.2,208.8 435.6,205.6 436.0,210.5 436.4,210.1 436.8,214.8 437.2,206.7 437.6,207.9 438.0,209.3 438.4,208.9 438.8,209.8 439.2,209.3 439.6,207.7 440.0,205.2 440.4,208.3 440.8,205.8 441.2,206.8 441.6,208.3 442.0,211.4 442.4,212.4 442.8,206.8 443.2,210.8 443.6,212.2 444.0,209.7 444.4,204.9 444.8,203.3 445.2,212.2 445.6,212.5 446.0,210.6 446.4,206.6 446.8,214.1 447.2,213.3 447.6,209.6 448.0,209.0 448.4,203.8 448.8,211.9 449.2,204.8 449.6,211.7 450.0,211.8 450.4,209.9 450.8,214.3 451.2,208.6 451.6,211.3 452.0,211.9 452.4,210.3 452.8,208.3 453.2,213.2 453.6,210.8 454.0,208.9 454.4,209.0 454.8,209.9 455.2,216.3 455.6,209.8 456.0,208.7 456.4,206.3 456.8,205.8 457.2,203.7 457.6,210.1 458.0,209.5 458.4,206.3 458.8,204.9 459.2,208.4 459.6,207.8 460.0,205.3 460.4,210.2 460.8,209.7 461.2,209.1 461.6,211.6 462.0,207.3 462.4,213.3 462.8,206.2 463.2,210.8 463.6,211.1 464.0,208.4 464.4,210.3 464.8,205.4 465.2,204.7 465.6,208.6 466.0,207.0 466.4,210.9 466.8,209.2 467.2,211.0 467.6,210.1 468.0,209.7 468.4,209.4 468.8,208.0 469.2,207.7 469.6,215.1 470.0,203.8 470.4,208.5 470.8,212.0 471.2,210.3 471.6,213.2 472.0,210.6 472.4,205.2 472.8,208.0 473.2,204.7 473.6,211.9 474.0,213.2 474.4,207.6 474.8,210.5 475.2,207.7 475.6,204.6 476.0,207.6 476.4,204.2 476.8,207.2 477.2,209.6 477.6,211.1 478.0,212.9 478.4,208.0 478.8,209.7 479.2,210.3 479.6,210.7 480.0,200.5 480.4,206.7 480.8,211.5 481.2,205.8 481.6,209.9 482.0,211.6 482.4,203.5 482.8,208.6 483.2,209.9 483.6,209.2 484.0,204.6 484.4,210.2 484.8,207.5 485.2,211.7 485.6,210.5 486.0,207.6 486.4,209.8 486.8,207.2 487.2,207.2 487.6,204.6 488.0,208.6 488.4,211.7 488.8,209.7 489.2,209.3 489.6,207.5 490.0,207.8 490.4,211.6 490.8,204.9 491.2,215.6 491.6,209.2 492.0,215.9 492.4,212.9 492.8,208.2 493.2,211.6 493.6,210.2 494.0,210.8 494.4,211.8 494.8,207.8 495.2,207.6 495.6,208.3 496.0,205.4 496.4,208.7 496.8,210.2 497.2,210.3 497.6,210.1 498.0,208.4 498.4,211.9 498.8,203.5 499.2,208.4 499.6,208.6 500.0,212.3 500.4,211.6 500.8,212.0 501.2,209.6 501.6,212.4 502.0,206.6 502.4,209.8 502.8,203.3 503.2,214.7 503.6,214.3 504.0,207.8 504.4,207.0 504.8,203.3 505.2,205.0 505.6,209.9 506.0,209.1 506.4,205.1 506.8,208.1 507.2,207.6 507.6,211.0 508.0,211.7 508.4,208.9 508.8,209.9 509.2,209.5 509.6,203.3 510.0,210.1 510.4,209.4 510.8,211.8 511.2,204.1 511.6,211.8 512.0,207.7 512.4,210.4 512.8,213.2 513.2,205.2 513.6,205.6 514.0,212.5 514.4,206.2 514.8,206.7 515.2,211.4 515.6,209.0 516.0,211.9 516.4,210.5 516.8,209.5 517.2,212.5 517.6,216.1 518.0,209.3 518.4,214.0 518.8,213.0 519.2,209.9 519.6,211.0 520.0,206.8 520.4,207.6 520.8,210.2 521.2,209.1 521.6,213.0 522.0,205.1 522.4,208.0 522.8,206.8 523.2,208.2 523.6,212.0 524.0,204.8 524.4,210.8 524.8,206.4 525.2,207.1 525.6,210.9 526.0,207.0 526.4,209.7 526.8,207.9 527.2,206.9 527.6,206.2 528.0,202.0 528.4,204.9 528.8,207.5 529.2,207.5 529.6,202.3 530.0,209.6 530.4,208.1 530.8,202.2 531.2,202.8 531.6,207.1 532.0,200.1 532.4,202.9 532.8,204.7 533.2,204.3 533.6,204.2 534.0,205.3 534.4,201.5 534.8,202.2 535.2,209.5 535.6,199.0 536.0,201.6 536.4,203.0 536.8,200.5 537.2,205.8 537.6,202.1 538.0,203.9 538.4,193.8"/>
<polyline fill="none" stroke="#000000" stroke-width="1.0" stroke-linejoin="round" points="33.6,169.0 34.0,170.4 34.4,169.0 34.8,164.2 35.2,170.7 35.6,169.3 36.0,166.5 36.4,169.7 36.8,169.1 37.2,168.9 37.6,168.2 38.0,169.7 38.4,165.9 38.8,167.6 39.2,166.7 39.6,169.9 40.0,168.2 40.4,167.3 40.8,165.8 41.2,167.4 41.6,168.2 42.0,167.4 42.4,172.0 42.8,171.1 43.2,160.3 43.6,162.7 44.0,167.7 44.4,167.0 44.8,168.8 45.2,168.9 45.6,174.4 46.0,165.0 46.4,167.1 46.8,174.2 47.2,170.2 47.6,170.2 48.0,166.8 48.4,163.5 48.8,168.8 49.2,168.6 49.6,164.7 50.0,166.3 50.4,168.1 50.8,165.6 51.2,168.1 51.6,168.6 52.0,168.5 52.4,166.9 52.8,170.1 53.2,171.0 53.6,169.3 54.0,166.0 54.4,170.5 54.8,167.0 55.2,171.0 55.6,165.3 56.0,171.1 56.4,168.4 56.8,164.8 57.2,167.6 57.6,168.6 58.0,169.3 58.4,165.7 58.8,165.3 59.2,169.1 59.6,167.2 60.0,169.2 60.4,170.7 60.8,163.7 61.2,169.1 61.6,171.9 62.0,167.5 62.4,166.0 62.8,170.4 63.2,169.0 63.6,170.8 64.0,167.2 64.4,163.9 64.8,167.8 65.2,166.8 65.6,170.2 66.0,168.5 66.4,163.3 66.8,164.5 67.2,170.4 67.6,169.8 68.0,166.0 68.4,167.8 68.8,169.0 69.2,169.0 69.6,170.1 70.0,168.3 70.4,167.3 70.8,166.8 71.2,170.5 71.6,161.2 72.0,167.0 72.4,167.5 72.8,163.4 73.2,168.2 73.6,165.4 74.0,169.6 74.4,166.8 74.8,168.9 75.2,170.4 75.6,168.1 76.0,164.6 76.4,162.8 76.8,171.6 77.2,166.5 77.6,164.9 78.0,167.0 78.4,166.1 78.8,168.7 79.2,166.5 79.6,166.4 80.0,164.4 80.4,167.3 80.8,163.3 81.2,167.4 81.6,169.3 82.0,161.5 82.4,159.1 82.8,166.1 83.2,170.2 83.6,161.6 84.0,160.6 84.4,164.0 84.8,160.2 85.2,159.8 85.6,158.6 86.0,158.0 86.4,153.8 86.8,150.8 87.2,145.9 87.6,141.6 88.0,141.0 88.4,143.0 88.8,148.0 89.2,150.6 89.6,153.6 90.0,159.9 90.4,159.0 90.8,160.2 91.2,162.3 91.6,161.0 92.0,161.9 92.4,163.8 92.8,163.8 93.2,160.6 93.6,165.6 94.0,162.3 94.4,161.2 94.8,161.7 95.2,163.2 95.6,168.6 96.0,161.6 96.4,165.3 96.8,159.4 97.2,165.3 97.6,167.9 98.0,165.0 98.4,164.2 98.8,166.7 99.2,168.1 99.6,168.2 100.0,172.0 100.4,167.3 100.8,165.2 101.2,166.5 101.6,166.8 102.0,167.4 102.4,167.1 102.8,167.7 103.2,162.7 103.6,169.7 104.0,165.9 104.4,164.3 104.8,169.5 105.2,171.5 105.6,169.3 106.0,168.4 106.4,165.4 106.8,176.2 107.2,170.7 107.6,165.1 108.0,166.2 108.4,168.7 108.8,164.1 109.2,169.1 109.6,167.4 110.0,172.3 110.4,171.4 110.8,160.8 111.2,168.6 111.6,163.7 112.0,171.4 112.4,168.6 112.8,169.6 113.2,164.9 113.6,173.1 114.0,173.6 114.4,164.6 114.8,168.6 115.2,165.5 115.6,167.3 116.0,163.6 116.4,172.5 116.8,164.2 117.2,166.1 117.6,168.2 118.0,164.8 118.4,165.8 118.8,164.6 119.2,165.7 119.6,162.5 120.0,164.4 120.4,164.8 120.8,164.2 121.2,165.1 121.6,163.9 122.0,166.7 122.4,163.3 122.8,163.6 123.2,161.8 123.6,161.9 124.0,159.4 124.4,164.2 124.8,159.2 125.2,159.9 125.6,162.6 126.0,162.2 126.4,159.5 126.8,154.5 127.2,160.8 127.6,159.8 128.0,154.6 128.4,159.7 128.8,154.8 129.2,152.6 129.6,154.4 130.0,151.6 130.4,148.9 130.8,138.4 131.2,134.5 131.6,113.1 132.0,89.4 132.4,65.6 132.8,40.5 133.2,29.7 133.6,39.4 134.0,62.5 134.4,88.0 134.8,108.0 135.2,126.1 135.6,133.5 136.0,137.7 136.4,142.3 136.8,144.2 137.2,142.5 137.6,140.6 138.0,144.1 138.4,138.1 138.8,139.9 139.2,142.0 139.6,137.9 140.0,138.8 140.4,135.6 140.8,132.8 141.2,126.1 141.6,122.1 142.0,120.0 142.4,119.5 142.8,127.6 143.2,129.1 143.6,133.4 144.0,139.7 144.4,140.8 144.8,138.5 145.2,144.6 145.6,145.1 146.0,140.8 146.4,138.8 146.8,135.9 147.2,125.5 147.6,116.5 148.0,101.7 148.4,85.8 148.8,74.5 149.2,73.6 149.6,85.1 150.0,101.6 150.4,114.5 150.8,126.4 151.2,132.0 151.6,135.1 152.0,131.8 152.4,130.5 152.8,123.2 153.2,104.6 153.6,84.4 154.0,61.5 154.4,37.7 154.8,21.3 155.2,19.4 155.6,38.0 156.0,63.4 156.4,85.6 156.8,106.2 157.2,122.4 157.6,129.7 158.0,139.6 158.4,137.7 158.8,138.6 159.2,140.2 159.6,140.2 160.0,135.8 160.4,136.5 160.8,129.7 161.2,128.5 161.6,119.5 162.0,111.9 162.4,107.2 162.8,107.4 163.2,114.9 163.6,122.8 164.0,131.5 164.4,140.0 164.8,145.2 165.2,152.4 165.6,155.8 166.0,155.0 166.4,156.3 166.8,151.3 167.2,156.0 167.6,153.4 168.0,153.3 168.4,154.3 168.8,140.9 169.2,144.6 169.6,137.9 170.0,139.0 170.4,135.7 170.8,138.8 171.2,140.6 171.6,139.4 172.0,133.3 172.4,123.7 172.8,112.7 173.2,100.2 173.6,84.1 174.0,70.3 174.4,66.3 174.8,72.2 175.2,85.8 175.6,100.3 176.0,116.8 176.4,126.5 176.8,138.9 177.2,143.4 177.6,150.3 178.0,153.7 178.4,150.9 178.8,153.5 179.2,154.7 179.6,158.6 180.0,158.0 180.4,153.4 180.8,158.6 181.2,160.0 181.6,164.5 182.0,154.4 182.4,157.9 182.8,163.5 183.2,156.2 183.6,156.9 184.0,162.0 184.4,163.7 184.8,159.1 185.2,162.8 185.6,161.9 186.0,166.1 186.4,162.0 186.8,165.1 187.2,159.9 187.6,162.2 188.0,162.7 188.4,166.5 188.8,165.1 189.2,161.5 189.6,165.9 190.0,166.4 190.4,163.8 190.8,163.4 191.2,163.6 191.6,159.2 192.0,164.7 192.4,164.8 192.8,161.6 193.2,166.2 193.6,160.1 194.0,162.5 194.4,162.7 194.8,169.7 195.2,159.4 195.6,165.6 196.0,166.7 196.4,165.0 196.8,167.3 197.2,161.1 197.6,157.4 198.0,166.0 198.4,160.5 198.8,162.9 199.2,160.5 199.6,166.7 200.0,166.1 200.4,161.7 200.8,166.2 201.2,163.9 201.6,163.2 202.0,163.6 202.4,162.9 202.8,165.0 203.2,164.0 203.6,162.1 204.0,165.2 204.4,160.5 204.8,161.6 205.2,160.1 205.6,159.2 206.0,152.0 206.4,150.3 206.8,143.1 207.2,137.7 207.6,134.1 208.0,134.0 208.4,137.7 208.8,141.4 209.2,146.1 209.6,151.1 210.0,154.3 210.4,160.3 210.8,162.8 211.2,162.6 211.6,161.8 212.0,159.7 212.4,160.6 212.8,162.2 213.2,164.5 213.6,160.4 214.0,156.2 214.4,154.9 214.8,151.3 215.2,147.5 215.6,144.4 216.0,140.0 216.4,136.3 216.8,128.6 217.2,124.3 217.6,120.4 218.0,117.5 218.4,119.9 218.8,123.0 219.2,127.0 219.6,132.9 220.0,137.7 220.4,141.9 220.8,145.6 221.2,149.2 221.6,152.0 222.0,150.6 222.4,153.4 222.8,150.0 223.2,154.3 223.6,154.7 224.0,152.4 224.4,150.4 224.8,147.7 225.2,141.7 225.6,137.5 226.0,133.2 226.4,129.0 226.8,126.0 227.2,128.8 227.6,131.2 228.0,137.7 228.4,144.2 228.8,147.7 229.2,150.9 229.6,153.4 230.0,158.6 230.4,162.7 230.8,162.0 231.2,162.7 231.6,162.0 232.0,165.1 232.4,158.0 232.8,164.5 233.2,164.0 233.6,160.2 234.0,170.0 234.4,160.2 234.8,161.1 235.2,160.8 235.6,167.3 236.0,161.7 236.4,166.2 236.8,166.0 237.2,165.1 237.6,160.6 238.0,162.6 238.4,169.2 238.8,160.7 239.2,162.0 239.6,164.0 240.0,166.8 240.4,165.2 240.8,166.6 241.2,161.4 241.6,167.2 242.0,166.1 242.4,159.8 242.8,168.8 243.2,170.9 243.6,161.9 244.0,164.1 244.4,167.7 244.8,158.9 245.2,156.9 245.6,158.3 246.0,159.7 246.4,158.8 246.8,161.4 247.2,159.4 247.6,154.0 248.0,158.3 248.4,161.4 248.8,159.0 249.2,155.5 249.6,156.1 250.0,159.6 250.4,154.9 250.8,160.9 251.2,159.5 251.6,164.1 252.0,163.0 252.4,159.2 252.8,163.4 253.2,167.2 253.6,160.7 254.0,162.7 254.4,162.3 254.8,160.3 255.2,167.7 255.6,168.8 256.0,167.4 256.4,165.8 256.8,165.0 257.2,165.9 257.6,163.0 258.0,167.9 258.4,168.3 258.8,168.0 259.2,163.7 259.6,165.6 260.0,164.9 260.4,170.6 260.8,165.9 261.2,159.8 261.6,166.6 262.0,170.9 262.4,167.4 262.8,168.0 263.2,165.5 263.6,159.6 264.0,160.1 264.4,161.7 264.8,165.0 265.2,166.3 265.6,167.5 266.0,164.4 266.4,168.2 266.8,164.6 267.2,163.3 267.6,167.9 268.0,162.7 268.4,157.4 268.8,162.3 269.2,165.7 269.6,156.3 270.0,164.4 270.4,164.5 270.8,161.2 271.2,161.1 271.6,164.1 272.0,163.8 272.4,169.2 272.8,166.6 273.2,160.8 273.6,162.9 274.0,167.5 274.4,171.1 274.8,166.6 275.2,166.4 275.6,171.0 276.0,165.4 276.4,164.5 276.8,161.3 277.2,163.9 277.6,171.9 278.0,161.2 278.4,165.5 278.8,161.3 279.2,165.8 279.6,168.1 280.0,164.7 280.4,167.6 280.8,167.6 281.2,166.8 281.6,170.6 282.0,167.8 282.4,164.6 282.8,163.4 283.2,163.0 283.6,166.9 284.0,164.5 284.4,173.6 284.8,170.9 285.2,164.8 285.6,164.5 286.0,170.5 286.4,159.9 286.8,164.1 287.2,168.3 287.6,162.8 288.0,164.1 288.4,164.4 288.8,167.4 289.2,165.9 289.6,166.7 290.0,167.2 290.4,165.6 290.8,168.8 291.2,163.3 291.6,161.2 292.0,160.2 292.4,160.7 292.8,163.8 293.2,168.5 293.6,166.0 294.0,163.7 294.4,162.3 294.8,163.9 295.2,164.3 295.6,163.8 296.0,161.2 296.4,164.1 296.8,168.5 297.2,159.0 297.6,164.8 298.0,159.2 298.4,166.0 298.8,163.3 299.2,159.3 299.6,165.8 300.0,170.9 300.4,165.8 300.8,168.9 301.2,165.3 301.6,159.1 302.0,166.9 302.4,164.2 302.8,161.1 303.2,167.8 303.6,166.3 304.0,163.9 304.4,168.1 304.8,162.9 305.2,167.4 305.6,162.7 306.0,167.1 306.4,162.2 306.8,169.9 307.2,166.2 307.6,169.7 308.0,163.0 308.4,164.1 308.8,168.0 309.2,157.3 309.6,162.3 310.0,168.6 310.4,166.9 310.8,168.4 311.2,164.6 311.6,167.2 312.0,163.3 312.4,161.4 312.8,160.4 313.2,163.8 313.6,163.8 314.0,163.6 314.4,154.9 314.8,159.5 315.2,163.9 315.6,166.3 316.0,163.8 316.4,162.9 316.8,158.6 317.2,171.5 317.6,162.2 318.0,170.5 318.4,170.1 318.8,166.3 319.2,163.8 319.6,165.9 320.0,162.0 320.4,166.3 320.8,165.5 321.2,167.1 321.6,168.3 322.0,170.6 322.4,164.3 322.8,168.6 323.2,163.1 323.6,162.8 324.0,163.6 324.4,162.6 324.8,168.4 325.2,168.2 325.6,169.3 326.0,165.4 326.4,166.3 326.8,163.8 327.2,162.1 327.6,166.8 328.0,166.3 328.4,162.2 328.8,167.2 329.2,160.3 329.6,165.0 330.0,163.6 330.4,163.9 330.8,162.2 331.2,168.3 331.6,167.2 332.0,169.0 332.4,165.8 332.8,161.6 333.2,164.3 333.6,161.9 334.0,166.8 334.4,169.0 334.8,166.4 335.2,163.6 335.6,164.3 336.0,166.0 336.4,161.1 336.8,165.8 337.2,166.0 337.6,163.7 338.0,164.1 338.4,165.9 338.8,162.9 339.2,162.9 339.6,167.7 340.0,166.0 340.4,170.3 340.8,162.4 341.2,160.0 341.6,168.1 342.0,168.2 342.4,163.1 342.8,160.9 343.2,165.1 343.6,160.0 344.0,164.2 344.4,158.7 344.8,164.5 345.2,158.9 345.6,164.5 346.0,169.8 346.4,164.4 346.8,167.5 347.2,163.3 347.6,162.5 348.0,160.7 348.4,168.3 348.8,165.0 349.2,170.0 349.6,161.7 350.0,164.5 350.4,165.4 350.8,169.4 351.2,170.6 351.6,163.2 352.0,161.7 352.4,159.9 352.8,169.1 353.2,164.8 353.6,163.2 354.0,164.9 354.4,157.5 354.8,159.9 355.2,167.9 355.6,166.3 356.0,165.5 356.4,162.1 356.8,166.8 357.2,170.4 357.6,161.4 358.0,165.1 358.4,163.7 358.8,166.1 359.2,165.1 359.6,164.6 360.0,162.4 360.4,165.0 360.8,163.2 361.2,164.6 361.6,164.8 362.0,167.0 362.4,163.3 362.8,164.0 363.2,168.2 363.6,164.3 364.0,164.2 364.4,167.6 364.8,165.8 365.2,165.2 365.6,165.6 366.0,161.3 366.4,166.3 366.8,168.9 367.2,166.7 367.6,160.3 368.0,165.8 368.4,162.3 368.8,164.3 369.2,165.3 369.6,161.4 370.0,168.9 370.4,164.7 370.8,167.3 371.2,166.8 371.6,169.0 372.0,168.5 372.4,160.5 372.8,165.1 373.2,158.6 373.6,163.6 374.0,167.1 374.4,167.7 374.8,168.8 375.2,163.8 375.6,165.9 376.0,165.2 376.4,168.7 376.8,169.7 377.2,163.8 377.6,176.2 378.0,164.9 378.4,163.8 378.8,166.7 379.2,167.2 379.6,166.5 380.0,163.0 380.4,169.2 380.8,165.0 381.2,169.3 381.6,168.8 382.0,160.8 382.4,161.7 382.8,161.5 383.2,165.2 383.6,164.6 384.0,165.2 384.4,161.9 384.8,165.6 385.2,168.4 385.6,160.2 386.0,163.5 386.4,164.8 386.8,163.6 387.2,163.4 387.6,169.2 388.0,167.7 388.4,166.3 388.8,161.5 389.2,170.4 389.6,164.7 390.0,161.9 390.4,162.5 390.8,162.0 391.2,169.8 391.6,164.0 392.0,163.5 392.4,156.8 392.8,165.4 393.2,160.0 393.6,159.7 394.0,164.9 394.4,160.4 394.8,165.4 395.2,166.2 395.6,157.5 396.0,162.3 396.4,157.9 396.8,162.4 397.2,165.2 397.6,158.3 398.0,167.7 398.4,161.3 398.8,158.6 399.2,161.7 399.6,164.3 400.0,157.8 400.4,161.8 400.8,157.6 401.2,165.2 401.6,162.0 402.0,160.2 402.4,164.5 402.8,157.5 403.2,160.0 403.6,166.7 404.0,160.7 404.4,165.0 404.8,161.5 405.2,158.7 405.6,159.8 406.0,160.6 406.4,159.0 406.8,157.6 407.2,157.5 407.6,155.2 408.0,159.8 408.4,160.5 408.8,161.3 409.2,153.5 409.6,161.1 410.0,158.5 410.4,154.1 410.8,158.4 411.2,160.4 411.6,159.3 412.0,159.7 412.4,159.9 412.8,159.3 413.2,156.0 413.6,149.4 414.0,152.8 414.4,155.5 414.8,152.4 415.2,155.1 415.6,154.6 416.0,151.3 416.4,155.4 416.8,145.0 417.2,148.4 417.6,141.7 418.0,141.7 418.4,144.3 418.8,142.7 419.2,149.0 419.6,144.3 420.0,148.7 420.4,146.6 420.8,148.7 421.2,148.5 421.6,146.2 422.0,151.4 422.4,145.5 422.8,145.8 423.2,150.7 423.6,150.2 424.0,147.0 424.4,148.8 424.8,155.8 425.2,146.4 425.6,148.8 426.0,148.8 426.4,155.1 426.8,153.9 427.2,156.9 427.6,156.9 428.0,153.8 428.4,152.5 428.8,152.4 429.2,162.5 429.6,159.2 430.0,158.5 430.4,155.9 430.8,156.5 431.2,156.2 431.6,156.5 432.0,150.4 432.4,157.6 432.8,156.8 433.2,159.0 433.6,158.9 434.0,161.0 434.4,158.6 434.8,161.2 435.2,151.3 435.6,155.8 436.0,164.4 436.4,155.8 436.8,158.8 437.2,161.9 437.6,157.3 438.0,162.3 438.4,156.0 438.8,154.7 439.2,156.6 439.6,155.8 440.0,160.9 440.4,159.9 440.8,161.8 441.2,157.7 441.6,168.4 442.0,160.4 442.4,160.5 442.8,162.0 443.2,159.9 443.6,158.7 444.0,160.8 444.4,163.2 444.8,162.4 445.2,163.2 445.6,158.7 446.0,158.0 446.4,166.3 446.8,159.5 447.2,161.6 447.6,162.4 448.0,164.4 448.4,156.1 448.8,158.6 449.2,158.7 449.6,159.1 450.0,152.7 450.4,159.7 450.8,151.3 451.2,160.9 451.6,161.6 452.0,161.8 452.4,156.4 452.8,162.9 453.2,157.5 453.6,156.4 454.0,157.2 454.4,157.6 454.8,160.7 455.2,162.6 455.6,153.9 456.0,158.6 456.4,162.9 456.8,160.8 457.2,161.8 457.6,155.8 458.0,163.1 458.4,155.6 458.8,160.9 459.2,164.4 459.6,166.0 460.0,161.9 460.4,163.0 460.8,158.6 461.2,159.0 461.6,163.9 462.0,160.5 462.4,160.1 462.8,156.3 463.2,161.0 463.6,162.5 464.0,158.2 464.4,159.0 464.8,165.3 465.2,161.1 465.6,159.7 466.0,157.2 466.4,158.8 466.8,159.9 467.2,164.8 467.6,158.9 468.0,166.1 468.4,157.9 468.8,159.7 469.2,163.3 469.6,160.1 470.0,158.3 470.4,160.4 470.8,162.2 471.2,155.7 471.6,160.1 472.0,160.5 472.4,159.7 472.8,163.1 473.2,159.2 473.6,159.8 474.0,161.1 474.4,163.1 474.8,160.3 475.2,165.5 475.6,158.3 476.0,164.9 476.4,158.5 476.8,160.6 477.2,162.2 477.6,167.2 478.0,163.8 478.4,159.9 478.8,165.0 479.2,160.5 479.6,158.8 480.0,162.5 480.4,161.5 480.8,164.1 481.2,159.6 481.6,162.4 482.0,163.2 482.4,162.1 482.8,161.2 483.2,159.2 483.6,164.0 484.0,161.8 484.4,162.9 484.8,160.3 485.2,161.4 485.6,158.3 486.0,161.7 486.4,163.7 486.8,161.7 487.2,164.1 487.6,162.4 488.0,165.6 488.4,161.0 488.8,156.6 489.2,162.9 489.6,161.1 490.0,158.7 490.4,163.6 490.8,162.4 491.2,163.0 491.6,160.7 492.0,162.3 492.4,162.5 492.8,167.0 493.2,159.7 493.6,161.7 494.0,162.8 494.4,156.6 494.8,157.0 495.2,168.3 495.6,156.5 496.0,163.6 496.4,159.3 496.8,159.6 497.2,156.0 497.6,159.2 498.0,164.3 498.4,157.8 498.8,163.7 499.2,162.9 499.6,168.0 500.0,160.6 500.4,165.8 500.8,164.7 501.2,161.1 501.6,157.0 502.0,166.5 502.4,157.9 502.8,160.6 503.2,164.6 503.6,165.3 504.0,159.5 504.4,161.9 504.8,161.2 505.2,165.5 505.6,169.5 506.0,156.5 506.4,164.7 506.8,153.4 507.2,162.0 507.6,158.7 508.0,168.0 508.4,162.5 508.8,159.8 509.2,160.5 509.6,160.3 510.0,162.6 510.4,161.5 510.8,164.0 511.2,166.6 511.6,164.1 512.0,158.3 512.4,157.1 512.8,159.7 513.2,165.1 513.6,161.0 514.0,160.0 514.4,162.4 514.8,157.8 515.2,158.6 515.6,163.5 516.0,161.1 516.4,160.6 516.8,162.9 517.2,160.2 517.6,159.9 518.0,160.6 518.4,163.8 518.8,162.2 519.2,158.4 519.6,161.1 520.0,163.9 520.4,167.5 520.8,158.4 521.2,162.7 521.6,160.8 522.0,164.0 522.4,162.7 522.8,165.7 523.2,162.8 523.6,159.5 524.0,159.4 524.4,162.1 524.8,162.0 525.2,167.9 525.6,165.6 526.0,157.0 526.4,161.4 526.8,156.3 527.2,155.2 527.6,162.3 528.0,161.6 528.4,156.7 528.8,164.5 529.2,156.5 529.6,155.7 530.0,160.9 530.4,159.5 530.8,158.1 531.2,158.2 531.6,158.9 532.0,157.6 532.4,157.3 532.8,151.9 533.2,153.3 533.6,158.8 534.0,154.5 534.4,157.9 534.8,159.6 535.2,154.5 535.6,156.0 536.0,161.0 536.4,156.5 536.8,159.6 537.2,158.3 537.6,155.6 538.0,152.7 538.4,150.5"/>
<rect x="33" y="5.2" width="506.4" height="377.6" fill="none" stroke="#000" stroke-width="1.6"/>
<line x1="33.00" y1="382.8" x2="33.00" y2="390.40" stroke="#000" stroke-width="1.3"/>
<line x1="75.19" y1="382.8" x2="75.19" y2="386.90" stroke="#000" stroke-width="1.3"/>
<line x1="117.38" y1="382.8" x2="117.38" y2="390.40" stroke="#000" stroke-width="1.3"/>
<line x1="159.57" y1="382.8" x2="159.57" y2="386.90" stroke="#000" stroke-width="1.3"/>
<line x1="201.77" y1="382.8" x2="201.77" y2="390.40" stroke="#000" stroke-width="1.3"/>
<line x1="243.96" y1="382.8" x2="243.96" y2="386.90" stroke="#000" stroke-width="1.3"/>
<line x1="286.15" y1="382.8" x2="286.15" y2="390.40" stroke="#000" stroke-width="1.3"/>
<line x1="328.34" y1="382.8" x2="328.34" y2="386.90" stroke="#000" stroke-width="1.3"/>
<line x1="370.53" y1="382.8" x2="370.53" y2="390.40" stroke="#000" stroke-width="1.3"/>
<line x1="412.72" y1="382.8" x2="412.72" y2="386.90" stroke="#000" stroke-width="1.3"/>
<line x1="454.92" y1="382.8" x2="454.92" y2="390.40" stroke="#000" stroke-width="1.3"/>
<line x1="497.11" y1="382.8" x2="497.11" y2="386.90" stroke="#000" stroke-width="1.3"/>
<line x1="539.30" y1="382.8" x2="539.30" y2="390.40" stroke="#000" stroke-width="1.3"/>
<text x="33.00" y="406" font-family="Liberation Sans, Arial, sans-serif" font-size="14.3" text-anchor="middle" stroke="#000" stroke-width="0.3">30</text>
<text x="117.38" y="406" font-family="Liberation Sans, Arial, sans-serif" font-size="14.3" text-anchor="middle" stroke="#000" stroke-width="0.3">40</text>
<text x="201.77" y="406" font-family="Liberation Sans, Arial, sans-serif" font-size="14.3" text-anchor="middle" stroke="#000" stroke-width="0.3">50</text>
<text x="286.15" y="406" font-family="Liberation Sans, Arial, sans-serif" font-size="14.3" text-anchor="middle" stroke="#000" stroke-width="0.3">60</text>
<text x="370.53" y="406" font-family="Liberation Sans, Arial, sans-serif" font-size="14.3" text-anchor="middle" stroke="#000" stroke-width="0.3">70</text>
<text x="454.92" y="406" font-family="Liberation Sans, Arial, sans-serif" font-size="14.3" text-anchor="middle" stroke="#000" stroke-width="0.3">80</text>
<text x="539.30" y="406" font-family="Liberation Sans, Arial, sans-serif" font-size="14.3" text-anchor="middle" stroke="#000" stroke-width="0.3">90</text>
<text x="242.2" y="434.2" font-family="Liberation Serif, Times New Roman, serif" font-weight="bold" font-size="15.5">2 Theta</text>
<text transform="translate(290.6,434.3) scale(1.22,1)" font-family="Liberation Serif, Noto Serif CJK SC, serif" font-weight="bold" font-size="15" stroke="#000" stroke-width="0.12">（</text>
<text x="306.9" y="434.8" font-family="Liberation Serif, Noto Serif CJK SC, serif" font-weight="bold" font-size="17" stroke="#000" stroke-width="0.2">°</text>
<text transform="translate(315.4,434.3) scale(1.22,1)" font-family="Liberation Serif, Noto Serif CJK SC, serif" font-weight="bold" font-size="15" stroke="#000" stroke-width="0.12">）</text>
<text transform="translate(14.3,250.8) rotate(-90)" font-family="Liberation Serif, Times New Roman, serif" font-weight="bold" font-size="15.7">Intensity(a.u.)</text>
<text x="80.6" y="135.8" font-family="Liberation Serif, Times New Roman, serif" font-size="14" stroke="#000" stroke-width="0.3">Ni<tspan font-size="8.5" dy="5.7">3</tspan><tspan dy="-5.7">P</tspan></text>
<text x="121.6" y="26.7" font-family="Liberation Serif, Times New Roman, serif" font-size="14" stroke="#000" stroke-width="0.3">Ni<tspan font-size="8.5" dy="5.7">3</tspan><tspan dy="-5.7">P</tspan></text>
<text x="149.4" y="17.6" font-family="Liberation Serif, Times New Roman, serif" font-size="14" stroke="#000" stroke-width="0.3">Ni</text>
<text x="163.9" y="61.3" font-family="Liberation Serif, Times New Roman, serif" font-size="14" stroke="#000" stroke-width="0.3">Ni<tspan font-size="8.5" dy="5.7">3</tspan><tspan dy="-5.7">P</tspan></text>
<text x="212.5" y="113.4" font-family="Liberation Serif, Times New Roman, serif" font-size="14" stroke="#000" stroke-width="0.3">Ni</text>
<text x="224.8" y="129.4" font-family="Liberation Serif, Times New Roman, serif" font-size="14" stroke="#000" stroke-width="0.3">Ni<tspan font-size="8.5" dy="5.7">3</tspan><tspan dy="-5.7">P</tspan></text>
<text x="414.5" y="135.9" font-family="Liberation Serif, Times New Roman, serif" font-size="14" stroke="#000" stroke-width="0.3">Ni</text>
<text x="537" y="148" font-family="Liberation Serif, Times New Roman, serif" font-weight="bold" font-size="14" text-anchor="end" stroke="#000" stroke-width="0.35">500°C</text>
<text x="537.3" y="198" font-family="Liberation Serif, Times New Roman, serif" font-weight="bold" font-size="14" text-anchor="end" stroke="#000" stroke-width="0.35">400°C</text>
<text x="537.6" y="250.5" font-family="Liberation Serif, Times New Roman, serif" font-weight="bold" font-size="14" text-anchor="end" stroke="#000" stroke-width="0.35">300°C</text>
<text x="537.3" y="298.7" font-family="Liberation Serif, Times New Roman, serif" font-weight="bold" font-size="14" text-anchor="end" stroke="#000" stroke-width="0.35">200°C</text>
<text x="535.9" y="343.5" font-family="Liberation Serif, Times New Roman, serif" font-weight="bold" font-size="14.2" text-anchor="end" stroke="#000" stroke-width="0.35">as-plated</text>
</svg>
</body></html>
